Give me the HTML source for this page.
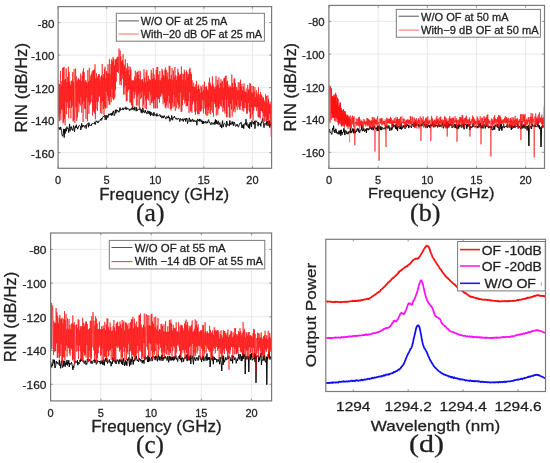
<!DOCTYPE html>
<html><head><meta charset="utf-8"><style>html,body{margin:0;padding:0;background:#fff;overflow:hidden}svg{display:block;filter:blur(0.4px)}</style></head>
<body>
<svg width="550" height="463" viewBox="0 0 550 463">
<defs><clipPath id="ca"><rect x="58.1" y="6.6" width="213.50" height="161.70"/></clipPath><clipPath id="cb"><rect x="328.9" y="5.4" width="215.60" height="163.00"/></clipPath><clipPath id="cc"><rect x="50.6" y="233.0" width="221.00" height="167.90"/></clipPath><clipPath id="cd"><rect x="325.8" y="239.3" width="219.70" height="152.20"/></clipPath></defs>
<rect width="550" height="463" fill="#fff"/>
<line x1="106.68" y1="6.6" x2="106.68" y2="168.3" stroke="#e3e3e3" stroke-width="0.8"/>
<line x1="155.25" y1="6.6" x2="155.25" y2="168.3" stroke="#e3e3e3" stroke-width="0.8"/>
<line x1="203.82" y1="6.6" x2="203.82" y2="168.3" stroke="#e3e3e3" stroke-width="0.8"/>
<line x1="252.40" y1="6.6" x2="252.40" y2="168.3" stroke="#e3e3e3" stroke-width="0.8"/>
<line x1="58.1" y1="22.60" x2="271.6" y2="22.60" stroke="#e3e3e3" stroke-width="0.8"/>
<line x1="58.1" y1="55.10" x2="271.6" y2="55.10" stroke="#e3e3e3" stroke-width="0.8"/>
<line x1="58.1" y1="87.60" x2="271.6" y2="87.60" stroke="#e3e3e3" stroke-width="0.8"/>
<line x1="58.1" y1="120.10" x2="271.6" y2="120.10" stroke="#e3e3e3" stroke-width="0.8"/>
<line x1="58.1" y1="152.60" x2="271.6" y2="152.60" stroke="#e3e3e3" stroke-width="0.8"/>
<g clip-path="url(#ca)">
<polyline points="58.3,126.8 58.8,128.2 59.2,129.2 59.7,127.6 60.1,129.9 60.6,126.9 61.0,128.5 61.5,129.3 61.9,134.2 62.4,136.2 62.8,135.8 63.3,133.5 63.7,128.9 64.2,137.6 64.6,129.3 65.1,133.7 65.5,128.6 66.0,131.2 66.4,131.1 66.9,126.6 67.3,129.0 67.8,128.5 68.2,128.4 68.7,132.5 69.1,128.1 69.6,123.9 70.0,131.2 70.5,126.9 70.9,126.6 71.4,126.6 71.8,129.5 72.3,128.9 72.7,130.5 73.2,128.2 73.6,125.5 74.1,129.3 74.5,131.9 75.0,127.7 75.4,126.2 75.9,128.1 76.3,124.7 76.8,127.8 77.2,127.4 77.7,129.2 78.1,127.8 78.6,126.0 79.0,125.9 79.5,125.3 79.9,126.0 80.4,126.2 80.8,130.0 81.3,127.9 81.7,123.3 82.2,127.3 82.6,125.4 83.1,126.4 83.5,125.2 84.0,126.0 84.4,127.4 84.9,127.0 85.3,125.2 85.8,126.3 86.2,128.6 86.7,124.6 87.1,123.8 87.6,123.8 88.0,123.7 88.5,127.2 88.9,122.6 89.4,124.9 89.8,125.9 90.3,125.1 90.7,125.3 91.2,125.9 91.6,123.9 92.1,123.5 92.5,123.8 93.0,123.1 93.4,123.4 93.9,124.0 94.3,123.6 94.8,121.9 95.2,124.6 95.7,123.0 96.1,120.8 96.6,121.6 97.0,120.9 97.5,121.6 97.9,123.1 98.4,121.8 98.8,120.9 99.3,121.4 99.7,120.9 100.2,120.2 100.6,119.0 101.1,120.5 101.5,118.0 102.0,119.3 102.4,117.6 102.9,117.2 103.3,116.1 103.8,116.7 104.2,116.4 104.7,115.2 105.1,119.7 105.6,118.3 106.0,115.2 106.5,119.6 106.9,115.8 107.4,115.5 107.8,117.7 108.3,116.5 108.7,113.9 109.2,113.8 109.6,115.1 110.1,115.2 110.5,114.8 111.0,113.0 111.4,115.5 111.9,113.2 112.3,115.2 112.8,111.7 113.2,112.4 113.7,110.8 114.1,115.8 114.6,115.2 115.0,112.9 115.5,109.8 115.9,113.3 116.4,109.7 116.8,111.0 117.3,110.9 117.7,110.0 118.2,112.2 118.6,111.4 119.1,112.2 119.5,110.0 120.0,107.5 120.4,110.5 120.9,109.1 121.3,109.3 121.8,109.4 122.2,109.9 122.7,107.8 123.1,109.3 123.6,110.1 124.0,107.8 124.5,108.2 124.9,108.7 125.4,109.3 125.8,106.8 126.3,108.9 126.7,109.7 127.2,107.9 127.6,109.1 128.1,108.6 128.5,109.0 129.0,108.7 129.4,110.8 129.9,109.5 130.3,109.3 130.8,110.2 131.2,108.5 131.7,107.9 132.1,109.8 132.6,105.7 133.0,108.8 133.5,108.1 133.9,110.3 134.4,110.1 134.8,106.8 135.3,108.2 135.7,109.4 136.2,111.2 136.6,107.3 137.1,110.8 137.5,110.2 138.0,109.9 138.4,109.3 138.9,109.8 139.3,110.0 139.8,107.5 140.2,110.0 140.7,109.7 141.1,112.5 141.6,109.5 142.0,113.2 142.5,111.7 142.9,107.9 143.4,112.1 143.8,111.1 144.3,112.9 144.7,113.0 145.2,110.0 145.6,112.2 146.1,111.8 146.5,112.2 147.0,114.1 147.4,112.3 147.9,110.8 148.3,113.4 148.8,111.8 149.2,111.1 149.7,114.4 150.1,111.6 150.6,115.8 151.0,112.1 151.5,113.6 151.9,114.9 152.4,113.6 152.8,114.4 153.3,116.1 153.7,112.3 154.2,112.4 154.6,115.4 155.1,114.7 155.5,114.9 156.0,114.7 156.4,116.3 156.9,113.3 157.3,114.6 157.8,116.2 158.2,115.6 158.7,116.1 159.1,115.4 159.6,114.4 160.0,114.5 160.5,117.0 160.9,115.4 161.4,116.9 161.8,118.2 162.3,117.3 162.7,115.9 163.2,118.1 163.6,117.0 164.1,115.5 164.5,117.1 165.0,117.2 165.4,117.6 165.9,119.1 166.3,116.8 166.8,116.5 167.2,116.4 167.7,118.1 168.1,118.1 168.6,115.7 169.0,118.2 169.5,117.3 169.9,121.4 170.4,118.6 170.8,118.6 171.3,119.4 171.7,115.4 172.2,117.8 172.6,120.2 173.1,117.5 173.5,117.6 174.0,117.7 174.4,116.0 174.9,117.9 175.3,117.9 175.8,118.9 176.2,119.4 176.7,118.1 177.1,118.3 177.6,119.5 178.0,119.0 178.5,118.3 178.9,118.3 179.4,119.3 179.8,121.6 180.3,118.4 180.7,119.2 181.2,120.1 181.6,119.6 182.1,120.6 182.5,118.7 183.0,119.6 183.4,121.5 183.9,118.8 184.3,118.7 184.8,119.7 185.2,118.8 185.7,121.6 186.1,118.0 186.6,119.3 187.0,118.4 187.5,123.6 187.9,122.0 188.4,120.8 188.8,120.5 189.3,117.8 189.7,120.2 190.2,122.0 190.6,119.7 191.1,120.1 191.5,121.4 192.0,119.4 192.4,119.1 192.9,120.9 193.3,121.9 193.8,119.8 194.2,120.2 194.7,121.2 195.1,121.9 195.6,121.2 196.0,120.3 196.5,120.9 196.9,125.2 197.4,120.3 197.8,118.9 198.3,120.7 198.7,120.1 199.2,121.3 199.6,118.9 200.1,121.4 200.5,119.7 201.0,119.6 201.4,121.7 201.9,120.5 202.3,123.8 202.8,121.2 203.2,123.9 203.7,121.1 204.1,122.5 204.6,122.2 205.0,123.2 205.5,121.6 205.9,121.1 206.4,123.4 206.8,122.6 207.3,121.8 207.7,123.1 208.2,120.6 208.6,119.6 209.1,122.0 209.5,122.6 210.0,122.3 210.4,123.8 210.9,124.9 211.3,123.8 211.8,122.3 212.2,123.2 212.7,124.2 213.1,124.5 213.6,122.9 214.0,123.5 214.5,121.9 214.9,124.7 215.4,119.5 215.8,123.3 216.3,120.2 216.7,123.8 217.2,122.5 217.6,124.2 218.1,120.8 218.5,122.4 219.0,124.7 219.4,123.9 219.9,122.5 220.3,126.7 220.8,124.9 221.2,124.7 221.7,128.1 222.1,123.3 222.6,120.7 223.0,127.1 223.5,126.0 223.9,123.7 224.4,123.3 224.8,123.4 225.3,124.5 225.7,124.9 226.2,127.2 226.6,121.0 227.1,121.8 227.5,125.3 228.0,124.2 228.4,124.6 228.9,124.9 229.3,126.2 229.8,120.4 230.2,124.6 230.7,123.0 231.1,124.6 231.6,123.8 232.0,121.6 232.5,124.2 232.9,121.7 233.4,125.7 233.8,123.2 234.3,122.0 234.7,123.1 235.2,125.8 235.6,126.4 236.1,125.3 236.5,125.9 237.0,124.0 237.4,125.0 237.9,126.2 238.3,127.2 238.8,126.0 239.2,124.8 239.7,123.4 240.1,124.0 240.6,123.4 241.0,122.2 241.5,123.9 241.9,127.9 242.4,125.2 242.8,127.7 243.3,124.3 243.7,128.6 244.2,124.7 244.6,124.3 245.1,123.2 245.5,124.5 246.0,119.2 246.4,125.4 246.9,122.6 247.3,125.4 247.8,126.6 248.2,125.4 248.7,127.8 249.1,123.8 249.6,128.7 250.0,122.3 250.5,124.3 250.9,122.6 251.4,127.0 251.8,120.7 252.3,121.3 252.7,121.7 253.2,124.3 253.6,122.0 254.1,124.1 254.5,120.9 255.0,128.6 255.4,123.7 255.9,120.6 256.3,121.7 256.8,121.5 257.2,121.7 257.7,123.2 258.1,126.2 258.6,122.4 259.0,124.7 259.5,124.3 259.9,123.8 260.4,123.6 260.8,126.3 261.3,121.8 261.7,123.1 262.2,120.6 262.6,118.5 263.1,121.7 263.5,123.4 264.0,127.7 264.4,123.9 264.9,123.2 265.3,123.0 265.8,123.7 266.2,125.4 266.7,121.4 267.1,123.5 267.6,121.0 268.0,126.1 268.5,123.1 268.9,120.7 269.4,120.7 269.8,127.6 270.3,124.4 270.7,125.2 271.2,120.7" fill="none" stroke="#000" stroke-width="0.9" stroke-linejoin="round" opacity="1.0"/>
<polyline points="58.3,79.4 58.7,117.1 59.0,83.9 59.4,121.3 59.7,84.1 60.1,113.8 60.5,70.9 60.8,119.8 61.2,85.5 61.5,109.3 61.9,81.0 62.3,110.2 62.6,68.0 63.0,123.6 63.3,67.2 63.7,121.7 64.1,67.1 64.4,118.8 64.8,80.1 65.1,125.3 65.5,79.0 65.9,102.0 66.2,68.3 66.6,114.2 66.9,82.3 67.3,102.2 67.7,77.1 68.0,107.8 68.4,66.6 68.7,118.3 69.1,72.0 69.5,108.1 69.8,81.4 70.2,100.3 70.5,84.8 70.9,118.4 71.3,81.2 71.6,107.9 72.0,80.4 72.3,106.0 72.7,72.2 73.1,121.6 73.4,81.7 73.8,120.1 74.1,69.1 74.5,116.2 74.9,123.0 75.2,111.9 75.6,68.4 75.9,107.4 76.3,76.3 76.7,120.7 77.0,81.5 77.4,117.5 77.7,79.5 78.1,102.1 78.5,78.1 78.8,112.4 79.2,80.1 79.5,103.6 79.9,79.3 80.3,105.7 80.6,73.6 81.0,96.9 81.3,81.3 81.7,112.7 82.1,75.6 82.4,104.7 82.8,71.4 83.1,122.1 83.5,68.2 83.9,101.0 84.2,72.2 84.6,108.5 84.9,81.5 85.3,109.2 85.7,79.9 86.0,118.9 86.4,81.8 86.7,97.5 87.1,82.8 87.5,121.2 87.8,70.1 88.2,101.9 88.5,81.4 88.9,113.9 89.3,67.9 89.6,105.1 90.0,80.3 90.3,103.5 90.7,75.6 91.1,102.2 91.4,73.9 91.8,94.8 92.1,71.4 92.5,115.5 92.9,70.6 93.2,110.6 93.6,70.0 93.9,112.2 94.3,69.5 94.7,113.7 95.0,64.3 95.4,119.2 95.7,78.0 96.1,109.4 96.5,73.4 96.8,101.6 97.2,78.1 97.5,110.9 97.9,76.0 98.3,101.7 98.6,74.5 99.0,96.4 99.3,74.1 99.7,96.5 100.1,80.4 100.4,113.0 100.8,76.5 101.1,103.1 101.5,75.2 101.9,113.9 102.2,64.0 102.6,101.0 102.9,77.5 103.3,109.0 103.7,74.3 104.0,115.4 104.4,68.7 104.7,107.4 105.1,66.6 105.5,108.7 105.8,78.3 106.2,91.8 106.5,71.0 106.9,108.1 107.3,73.0 107.6,95.6 108.0,64.3 108.3,101.0 108.7,73.5 109.1,104.6 109.4,59.2 109.8,104.8 110.1,74.1 110.5,97.0 110.9,64.1 111.2,102.2 111.6,59.4 111.9,89.0 112.3,61.2 112.7,98.2 113.0,56.9 113.4,100.1 113.7,59.0 114.1,99.3 114.5,65.5 114.8,97.4 115.2,59.4 115.5,90.0 115.9,59.6 116.3,81.7 116.6,58.4 117.0,72.0 117.3,56.8 117.7,72.0 118.1,56.8 118.4,73.0 118.8,50.0 119.1,48.5 119.5,57.4 119.9,84.8 120.2,50.5 120.6,81.0 120.9,56.3 121.3,85.4 121.7,61.5 122.0,74.7 122.4,60.0 122.7,78.9 123.1,54.2 123.5,94.5 123.8,64.2 124.2,87.0 124.5,66.0 124.9,94.7 125.3,59.2 125.6,85.5 126.0,71.7 126.3,101.5 126.7,67.9 127.1,101.0 127.4,63.2 127.8,92.1 128.1,69.9 128.5,90.0 128.9,66.2 129.2,89.0 129.6,74.9 129.9,102.5 130.3,67.1 130.7,102.5 131.0,69.5 131.4,105.2 131.7,80.3 132.1,105.7 132.5,80.4 132.8,107.4 133.2,81.2 133.5,91.3 133.9,79.9 134.3,98.5 134.6,76.6 135.0,94.8 135.3,70.7 135.7,91.6 136.1,78.6 136.4,105.6 136.8,72.4 137.1,96.5 137.5,71.6 137.9,105.7 138.2,75.1 138.6,94.2 138.9,70.7 139.3,109.6 139.7,78.9 140.0,92.9 140.4,71.2 140.7,99.0 141.1,80.3 141.5,97.5 141.8,79.5 142.2,91.8 142.5,79.1 142.9,107.7 143.3,82.2 143.6,104.7 144.0,69.2 144.3,95.6 144.7,77.5 145.1,108.5 145.4,82.3 145.8,100.4 146.1,71.8 146.5,109.2 146.9,69.9 147.2,97.6 147.6,81.0 147.9,99.4 148.3,75.6 148.7,100.7 149.0,79.0 149.4,91.5 149.7,79.7 150.1,105.1 150.5,80.3 150.8,94.5 151.2,69.8 151.5,103.2 151.9,72.9 152.3,100.9 152.6,78.8 153.0,103.2 153.3,68.0 153.7,108.3 154.1,74.4 154.4,99.7 154.8,78.3 155.1,108.4 155.5,80.3 155.9,108.1 156.2,70.2 156.6,97.1 156.9,67.1 157.3,108.5 157.7,66.9 158.0,98.7 158.4,74.6 158.7,99.0 159.1,80.2 159.5,102.7 159.8,71.1 160.2,96.6 160.5,80.5 160.9,96.5 161.3,78.2 161.6,92.9 162.0,68.9 162.3,94.7 162.7,70.6 163.1,104.4 163.4,75.1 163.8,99.7 164.1,76.6 164.5,102.7 164.9,69.6 165.2,107.4 165.6,67.4 165.9,108.4 166.3,70.1 166.7,105.4 167.0,76.8 167.4,101.2 167.7,72.5 168.1,107.9 168.5,79.5 168.8,95.8 169.2,65.7 169.5,103.4 169.9,66.1 170.3,109.1 170.6,79.2 171.0,110.5 171.3,75.1 171.7,108.4 172.1,68.2 172.4,102.7 172.8,79.9 173.1,107.5 173.5,70.5 173.9,94.7 174.2,77.3 174.6,106.3 174.9,67.0 175.3,110.9 175.7,75.2 176.0,97.2 176.4,80.0 176.7,108.3 177.1,76.3 177.5,102.7 177.8,68.8 178.2,104.7 178.5,72.4 178.9,108.9 179.3,75.7 179.6,107.2 180.0,74.0 180.3,92.4 180.7,74.9 181.1,111.8 181.4,66.4 181.8,111.6 182.1,73.5 182.5,105.2 182.9,79.8 183.2,99.8 183.6,74.1 183.9,96.9 184.3,69.6 184.7,103.4 185.0,72.1 185.4,101.0 185.7,80.3 186.1,106.3 186.5,70.3 186.8,105.9 187.2,72.3 187.5,106.0 187.9,76.7 188.3,101.0 188.6,74.1 189.0,113.0 189.3,69.3 189.7,92.4 190.1,67.7 190.4,111.5 190.8,72.3 191.1,110.9 191.5,74.3 191.9,112.7 192.2,80.3 192.6,104.5 192.9,86.6 193.3,100.7 193.7,82.9 194.0,102.3 194.4,86.6 194.7,111.7 195.1,87.5 195.5,114.8 195.8,84.5 196.2,111.3 196.5,80.8 196.9,101.0 197.3,89.4 197.6,114.4 198.0,85.7 198.3,114.1 198.7,84.6 199.1,113.9 199.4,88.9 199.8,110.3 200.1,92.8 200.5,111.5 200.9,85.7 201.2,110.9 201.6,87.5 201.9,109.1 202.3,91.8 202.7,100.0 203.0,84.8 203.4,113.4 203.7,90.2 204.1,101.2 204.5,81.6 204.8,108.6 205.2,86.8 205.5,114.2 205.9,87.2 206.3,115.6 206.6,86.2 207.0,107.4 207.3,89.7 207.7,115.6 208.1,90.2 208.4,110.2 208.8,82.4 209.1,113.4 209.5,77.7 209.9,106.7 210.2,82.7 210.6,114.2 210.9,85.1 211.3,110.4 211.7,86.9 212.0,102.0 212.4,76.4 212.7,112.7 213.1,83.6 213.5,116.8 213.8,86.0 214.2,101.8 214.5,88.7 214.9,104.0 215.3,87.2 215.6,107.3 216.0,75.9 216.3,115.8 216.7,85.8 217.1,106.6 217.4,79.9 217.8,114.8 218.1,84.6 218.5,109.2 218.9,77.3 219.2,108.2 219.6,88.2 219.9,103.9 220.3,83.0 220.7,106.1 221.0,79.3 221.4,106.6 221.7,82.6 222.1,100.2 222.5,80.9 222.8,111.8 223.2,87.9 223.5,107.7 223.9,78.3 224.3,111.0 224.6,78.0 225.0,113.6 225.3,76.1 225.7,99.7 226.1,75.6 226.4,117.2 226.8,82.0 227.1,117.3 227.5,80.7 227.9,99.6 228.2,87.2 228.6,107.1 228.9,84.7 229.3,117.3 229.7,87.4 230.0,117.9 230.4,86.0 230.7,104.0 231.1,87.8 231.5,109.6 231.8,74.6 232.2,116.6 232.5,83.1 232.9,99.8 233.3,87.4 233.6,111.5 234.0,78.9 234.3,109.2 234.7,78.3 235.1,112.4 235.4,83.1 235.8,104.8 236.1,87.8 236.5,106.6 236.9,86.8 237.2,109.9 237.6,90.2 237.9,99.6 238.3,82.2 238.7,106.8 239.0,90.1 239.4,109.3 239.7,82.5 240.1,110.0 240.5,79.7 240.8,106.1 241.2,86.7 241.5,101.2 241.9,83.8 242.3,110.5 242.6,90.4 243.0,107.9 243.3,86.6 243.7,111.5 244.1,83.4 244.4,108.2 244.8,91.0 245.1,102.5 245.5,92.1 245.9,108.2 246.2,88.6 246.6,113.5 246.9,92.7 247.3,113.7 247.7,85.0 248.0,110.4 248.4,90.2 248.7,103.0 249.1,88.8 249.5,111.7 249.8,83.0 250.2,118.9 250.5,83.8 250.9,117.9 251.3,92.0 251.6,107.4 252.0,85.9 252.3,114.4 252.7,93.4 253.1,120.6 253.4,85.9 253.8,110.7 254.1,91.8 254.5,107.0 254.9,87.2 255.2,106.3 255.6,96.9 255.9,107.5 256.3,90.2 256.7,110.9 257.0,92.7 257.4,107.1 257.7,95.3 258.1,116.7 258.5,87.4 258.8,117.6 259.2,94.1 259.5,117.1 259.9,98.3 260.3,118.5 260.6,92.0 261.0,110.8 261.3,94.6 261.7,110.9 262.1,95.6 262.4,112.5 262.8,98.3 263.1,121.4 263.5,97.3 263.9,116.2 264.2,100.4 264.6,121.8 264.9,101.9 265.3,117.0 265.7,94.1 266.0,121.0 266.4,96.0 266.7,121.0 267.1,103.2 267.5,119.8 267.8,95.5 268.2,124.3 268.5,99.0 268.9,119.6 269.3,104.3 269.6,113.6 270.0,101.6 270.3,123.8 270.7,104.4 271.1,137.0" fill="none" stroke="#ff0808" stroke-width="0.6" stroke-linejoin="round" opacity="1.0"/>
</g>
<rect x="58.1" y="6.6" width="213.50" height="161.70" fill="none" stroke="#7a7a7a" stroke-width="1.2"/>
<line x1="58.10" y1="168.3" x2="58.10" y2="166.10000000000002" stroke="#7a7a7a" stroke-width="0.8"/>
<line x1="58.10" y1="6.6" x2="58.10" y2="8.8" stroke="#7a7a7a" stroke-width="0.8"/>
<line x1="106.68" y1="168.3" x2="106.68" y2="166.10000000000002" stroke="#7a7a7a" stroke-width="0.8"/>
<line x1="106.68" y1="6.6" x2="106.68" y2="8.8" stroke="#7a7a7a" stroke-width="0.8"/>
<line x1="155.25" y1="168.3" x2="155.25" y2="166.10000000000002" stroke="#7a7a7a" stroke-width="0.8"/>
<line x1="155.25" y1="6.6" x2="155.25" y2="8.8" stroke="#7a7a7a" stroke-width="0.8"/>
<line x1="203.82" y1="168.3" x2="203.82" y2="166.10000000000002" stroke="#7a7a7a" stroke-width="0.8"/>
<line x1="203.82" y1="6.6" x2="203.82" y2="8.8" stroke="#7a7a7a" stroke-width="0.8"/>
<line x1="252.40" y1="168.3" x2="252.40" y2="166.10000000000002" stroke="#7a7a7a" stroke-width="0.8"/>
<line x1="252.40" y1="6.6" x2="252.40" y2="8.8" stroke="#7a7a7a" stroke-width="0.8"/>
<line x1="58.1" y1="22.60" x2="60.300000000000004" y2="22.60" stroke="#7a7a7a" stroke-width="0.8"/>
<line x1="271.6" y1="22.60" x2="269.40000000000003" y2="22.60" stroke="#7a7a7a" stroke-width="0.8"/>
<line x1="58.1" y1="55.10" x2="60.300000000000004" y2="55.10" stroke="#7a7a7a" stroke-width="0.8"/>
<line x1="271.6" y1="55.10" x2="269.40000000000003" y2="55.10" stroke="#7a7a7a" stroke-width="0.8"/>
<line x1="58.1" y1="87.60" x2="60.300000000000004" y2="87.60" stroke="#7a7a7a" stroke-width="0.8"/>
<line x1="271.6" y1="87.60" x2="269.40000000000003" y2="87.60" stroke="#7a7a7a" stroke-width="0.8"/>
<line x1="58.1" y1="120.10" x2="60.300000000000004" y2="120.10" stroke="#7a7a7a" stroke-width="0.8"/>
<line x1="271.6" y1="120.10" x2="269.40000000000003" y2="120.10" stroke="#7a7a7a" stroke-width="0.8"/>
<line x1="58.1" y1="152.60" x2="60.300000000000004" y2="152.60" stroke="#7a7a7a" stroke-width="0.8"/>
<line x1="271.6" y1="152.60" x2="269.40000000000003" y2="152.60" stroke="#7a7a7a" stroke-width="0.8"/>
<text transform="translate(54.40,27.70) scale(1.0400,1)" font-family="Liberation Sans" font-size="11.2" fill="#1f1f1f" stroke="#1f1f1f" stroke-width="0.28" text-anchor="end">-80</text>
<text transform="translate(54.40,60.20) scale(1.0400,1)" font-family="Liberation Sans" font-size="11.2" fill="#1f1f1f" stroke="#1f1f1f" stroke-width="0.28" text-anchor="end">-100</text>
<text transform="translate(54.40,92.70) scale(1.0400,1)" font-family="Liberation Sans" font-size="11.2" fill="#1f1f1f" stroke="#1f1f1f" stroke-width="0.28" text-anchor="end">-120</text>
<text transform="translate(54.40,125.20) scale(1.0400,1)" font-family="Liberation Sans" font-size="11.2" fill="#1f1f1f" stroke="#1f1f1f" stroke-width="0.28" text-anchor="end">-140</text>
<text transform="translate(54.40,157.70) scale(1.0400,1)" font-family="Liberation Sans" font-size="11.2" fill="#1f1f1f" stroke="#1f1f1f" stroke-width="0.28" text-anchor="end">-160</text>
<text transform="translate(58.10,183.60) scale(1.0000,1)" font-family="Liberation Sans" font-size="11.0" fill="#1f1f1f" stroke="#1f1f1f" stroke-width="0.28" text-anchor="middle">0</text>
<text transform="translate(106.68,183.60) scale(1.0000,1)" font-family="Liberation Sans" font-size="11.0" fill="#1f1f1f" stroke="#1f1f1f" stroke-width="0.28" text-anchor="middle">5</text>
<text transform="translate(155.25,183.60) scale(1.0000,1)" font-family="Liberation Sans" font-size="11.0" fill="#1f1f1f" stroke="#1f1f1f" stroke-width="0.28" text-anchor="middle">10</text>
<text transform="translate(203.82,183.60) scale(1.0000,1)" font-family="Liberation Sans" font-size="11.0" fill="#1f1f1f" stroke="#1f1f1f" stroke-width="0.28" text-anchor="middle">15</text>
<text transform="translate(252.40,183.60) scale(1.0000,1)" font-family="Liberation Sans" font-size="11.0" fill="#1f1f1f" stroke="#1f1f1f" stroke-width="0.28" text-anchor="middle">20</text>
<text transform="translate(26.50,132.50) rotate(-90) scale(1.0380,1)" font-family="Liberation Sans" font-size="16" fill="#1f1f1f" stroke="#1f1f1f" stroke-width="0.28" text-anchor="start">RIN (dB/Hz)</text>
<text transform="translate(99.20,199.60) scale(1.0868,1)" font-family="Liberation Sans" font-size="15.6" fill="#1f1f1f" stroke="#1f1f1f" stroke-width="0.28" text-anchor="start">Frequency (GHz)</text>
<text transform="translate(136.00,220.50) scale(0.9877,1)" font-family="Liberation Serif" font-size="26" fill="#1f1f1f" stroke="#1f1f1f" stroke-width="0.28" text-anchor="start">(a)</text>
<rect x="116.3" y="13.3" width="148.1" height="27.9" fill="#fff" stroke="#7a7a7a" stroke-width="1"/>
<line x1="118.5" y1="20.9" x2="138.9" y2="20.9" stroke="#555" stroke-width="1"/>
<text transform="translate(140.80,24.90) scale(1.0368,1)" font-family="Liberation Sans" font-size="10.5" fill="#1f1f1f" stroke="#1f1f1f" stroke-width="0.28" text-anchor="start">W/O OF at 25 mA</text>
<line x1="118.5" y1="34" x2="138.9" y2="34" stroke="#ff8080" stroke-width="1.2"/>
<text transform="translate(140.80,37.80) scale(1.0384,1)" font-family="Liberation Sans" font-size="10.5" fill="#1f1f1f" stroke="#1f1f1f" stroke-width="0.28" text-anchor="start">With−20 dB OF at 25 mA</text>
<line x1="378.15" y1="5.4" x2="378.15" y2="168.4" stroke="#e3e3e3" stroke-width="0.8"/>
<line x1="427.30" y1="5.4" x2="427.30" y2="168.4" stroke="#e3e3e3" stroke-width="0.8"/>
<line x1="476.45" y1="5.4" x2="476.45" y2="168.4" stroke="#e3e3e3" stroke-width="0.8"/>
<line x1="525.60" y1="5.4" x2="525.60" y2="168.4" stroke="#e3e3e3" stroke-width="0.8"/>
<line x1="328.9" y1="21.40" x2="544.5" y2="21.40" stroke="#e3e3e3" stroke-width="0.8"/>
<line x1="328.9" y1="54.14" x2="544.5" y2="54.14" stroke="#e3e3e3" stroke-width="0.8"/>
<line x1="328.9" y1="86.88" x2="544.5" y2="86.88" stroke="#e3e3e3" stroke-width="0.8"/>
<line x1="328.9" y1="119.61" x2="544.5" y2="119.61" stroke="#e3e3e3" stroke-width="0.8"/>
<line x1="328.9" y1="152.35" x2="544.5" y2="152.35" stroke="#e3e3e3" stroke-width="0.8"/>
<g clip-path="url(#cb)">
<polyline points="329.1,132.5 329.6,129.1 330.0,132.5 330.4,132.3 330.9,132.6 331.3,133.5 331.8,134.5 332.2,130.8 332.7,128.4 333.1,129.3 333.6,125.7 334.0,131.5 334.5,130.0 334.9,133.0 335.4,130.8 335.8,128.8 336.3,130.3 336.7,133.2 337.2,133.6 337.6,132.5 338.1,133.8 338.5,134.1 339.0,130.7 339.4,134.3 339.9,133.1 340.3,130.2 340.8,135.7 341.2,129.8 341.7,133.7 342.1,134.6 342.6,132.0 343.0,132.5 343.5,132.0 343.9,128.2 344.4,131.1 344.8,135.1 345.3,132.4 345.7,130.4 346.2,130.8 346.6,133.7 347.1,132.5 347.5,132.8 348.0,134.3 348.4,131.6 348.9,132.9 349.3,131.8 349.8,131.3 350.2,132.9 350.7,128.3 351.1,133.1 351.6,130.9 352.0,131.6 352.5,130.9 352.9,128.3 353.4,133.2 353.8,129.3 354.3,133.1 354.7,129.7 355.2,133.3 355.6,131.1 356.1,132.0 356.5,131.4 357.0,128.6 357.4,128.3 357.9,130.3 358.3,131.5 358.8,128.5 359.2,132.3 359.7,132.9 360.1,130.1 360.6,130.1 361.0,129.5 361.5,129.8 361.9,125.1 362.4,131.2 362.8,130.4 363.3,130.9 363.7,128.0 364.2,130.9 364.6,131.6 365.1,129.8 365.5,130.5 366.0,128.9 366.4,133.0 366.9,128.0 367.3,128.8 367.8,129.8 368.2,130.2 368.7,128.5 369.1,129.5 369.6,128.4 370.0,126.3 370.5,128.8 370.9,127.2 371.4,127.9 371.8,129.8 372.3,126.8 372.7,127.6 373.2,130.2 373.6,128.1 374.1,125.8 374.5,127.1 375.0,127.3 375.4,129.1 375.9,128.4 376.3,127.6 376.8,129.4 377.2,131.1 377.7,125.8 378.1,129.2 378.6,130.9 379.0,125.6 379.5,128.3 379.9,129.4 380.4,129.8 380.8,126.3 381.3,128.4 381.7,130.1 382.2,127.2 382.6,127.8 383.1,128.8 383.5,128.9 384.0,128.8 384.4,127.7 384.9,128.5 385.3,129.5 385.8,126.1 386.2,125.5 386.7,127.8 387.1,127.5 387.6,125.9 388.0,128.5 388.5,126.9 388.9,125.5 389.4,127.8 389.8,130.7 390.3,129.3 390.7,128.5 391.2,127.3 391.6,130.1 392.1,129.7 392.5,126.5 393.0,124.0 393.4,126.1 393.9,127.3 394.3,125.3 394.8,125.3 395.2,125.4 395.7,129.0 396.1,124.1 396.6,129.3 397.0,127.4 397.5,130.9 397.9,126.3 398.4,127.2 398.8,125.8 399.3,127.2 399.7,128.8 400.2,126.8 400.6,129.1 401.1,123.5 401.5,129.5 402.0,125.6 402.4,128.4 402.9,127.8 403.3,127.5 403.8,125.3 404.2,126.4 404.7,126.2 405.1,128.8 405.6,125.1 406.0,126.8 406.5,127.1 406.9,124.0 407.4,124.8 407.8,126.1 408.3,125.0 408.7,128.1 409.2,126.4 409.6,125.8 410.1,126.7 410.5,127.1 411.0,126.2 411.4,127.9 411.9,126.1 412.3,124.1 412.8,125.0 413.2,125.4 413.7,126.8 414.1,122.7 414.6,125.6 415.0,127.5 415.5,122.4 415.9,122.5 416.4,125.5 416.8,124.6 417.3,124.9 417.7,125.2 418.2,124.2 418.6,126.6 419.1,126.5 419.5,127.1 420.0,124.7 420.4,125.4 420.9,125.5 421.3,123.8 421.8,126.3 422.2,125.7 422.7,124.7 423.1,122.5 423.6,122.5 424.0,124.3 424.5,125.2 424.9,124.4 425.4,127.5 425.8,124.4 426.3,123.9 426.7,125.5 427.2,127.9 427.6,124.4 428.1,126.3 428.5,125.5 429.0,126.7 429.4,125.2 429.9,127.8 430.3,126.0 430.8,124.4 431.2,125.9 431.7,126.1 432.1,123.5 432.6,121.8 433.0,125.8 433.5,126.0 433.9,127.3 434.4,125.1 434.8,124.0 435.3,125.1 435.7,126.4 436.2,124.8 436.6,125.6 437.1,126.2 437.5,127.4 438.0,125.0 438.4,125.6 438.9,123.6 439.3,126.8 439.8,125.5 440.2,125.0 440.7,126.6 441.1,126.2 441.6,126.2 442.0,125.1 442.5,123.2 442.9,124.9 443.4,128.3 443.8,127.3 444.3,125.9 444.7,124.6 445.2,125.4 445.6,124.8 446.1,127.1 446.5,121.8 447.0,126.3 447.4,128.4 447.9,125.8 448.3,123.0 448.8,127.4 449.2,124.9 449.7,125.1 450.1,123.4 450.6,125.3 451.0,124.5 451.5,125.4 451.9,125.1 452.4,127.4 452.8,127.8 453.3,125.5 453.7,125.9 454.2,125.7 454.6,123.9 455.1,128.1 455.5,126.0 456.0,124.1 456.4,128.1 456.9,127.6 457.3,129.2 457.8,125.0 458.2,125.3 458.7,128.6 459.1,124.2 459.6,126.8 460.0,126.6 460.5,125.3 460.9,124.8 461.4,127.7 461.8,125.7 462.3,126.2 462.7,123.8 463.2,127.4 463.6,123.8 464.1,129.3 464.5,125.1 465.0,123.7 465.4,125.0 465.9,124.0 466.3,124.5 466.8,128.7 467.2,127.2 467.7,124.2 468.1,125.7 468.6,126.4 469.0,123.9 469.5,125.4 469.9,129.9 470.4,128.2 470.8,126.1 471.3,126.9 471.7,127.9 472.2,126.7 472.6,127.0 473.1,123.5 473.5,126.3 474.0,126.4 474.4,126.9 474.9,127.1 475.3,126.3 475.8,126.6 476.2,126.3 476.7,126.4 477.1,127.8 477.6,126.0 478.0,128.2 478.5,125.5 478.9,123.7 479.4,126.6 479.8,126.3 480.3,122.9 480.7,126.6 481.2,128.3 481.6,125.7 482.1,128.0 482.5,125.3 483.0,128.5 483.4,126.2 483.9,125.9 484.3,124.5 484.8,125.7 485.2,128.4 485.7,126.0 486.1,126.2 486.6,123.9 487.0,127.1 487.5,126.8 487.9,125.7 488.4,126.8 488.8,128.2 489.3,127.6 489.7,126.2 490.2,126.4 490.6,128.0 491.1,126.8 491.5,126.3 492.0,130.1 492.4,129.1 492.9,130.1 493.3,129.5 493.8,126.1 494.2,126.2 494.7,129.7 495.1,125.3 495.6,124.8 496.0,126.4 496.5,125.8 496.9,125.8 497.4,127.5 497.8,124.0 498.3,128.0 498.7,127.1 499.2,130.9 499.6,125.2 500.1,127.5 500.5,123.7 501.0,129.3 501.4,123.9 501.9,130.6 502.3,126.7 502.8,126.5 503.2,127.2 503.7,124.0 504.1,128.1 504.6,127.0 505.0,126.4 505.5,126.6 505.9,126.9 506.4,125.8 506.8,126.9 507.3,124.2 507.7,127.8 508.2,126.6 508.6,125.7 509.1,125.5 509.5,124.2 510.0,127.4 510.4,124.9 510.9,126.6 511.3,129.8 511.8,125.1 512.2,128.7 512.7,127.3 513.1,125.7 513.6,127.4 514.0,128.0 514.5,125.6 514.9,124.9 515.4,127.5 515.8,127.1 516.3,125.9 516.7,126.4 517.2,126.9 517.6,123.6 518.1,127.0 518.5,128.0 519.0,127.2 519.4,125.9 519.9,127.7 520.3,128.1 520.8,129.2 521.2,123.2 521.7,125.6 522.1,128.5 522.6,125.7 523.0,125.8 523.5,124.6 523.9,128.2 524.4,124.6 524.8,125.2 525.3,128.5 525.7,126.2 526.2,126.1 526.6,126.0 527.1,130.4 527.5,126.1 528.0,127.2 528.4,125.2 528.9,146.0 529.3,127.5 529.8,128.2 530.2,127.0 530.7,126.1 531.1,126.6 531.6,129.0 532.0,124.0 532.5,125.1 532.9,126.4 533.4,126.2 533.8,125.6 534.3,126.1 534.7,126.9 535.2,124.7 535.6,126.8 536.1,127.0 536.5,126.4 537.0,126.7 537.4,126.2 537.9,121.4 538.3,127.4 538.8,125.7 539.2,125.1 539.7,129.1 540.1,126.9 540.6,129.2 541.0,147.0 541.5,129.1 541.9,126.2 542.4,127.5 542.8,124.8 543.3,127.0 543.7,127.2 544.2,127.5" fill="none" stroke="#000" stroke-width="1.0" stroke-linejoin="round" opacity="1.0"/>
<polyline points="329.1,87.1 329.4,85.5 329.7,94.0 330.0,122.9 330.3,90.9 330.6,86.5 330.9,91.5 331.2,119.7 331.5,88.3 331.8,113.6 332.1,96.1 332.4,118.2 332.7,96.2 333.0,116.9 333.3,96.4 333.6,117.7 333.9,94.6 334.2,118.4 334.5,97.1 334.8,121.0 335.1,94.6 335.4,116.9 335.7,92.8 336.0,121.7 336.3,95.0 336.6,117.9 336.9,104.8 337.2,119.2 337.5,97.6 337.8,122.4 338.1,99.0 338.4,125.2 338.7,106.6 339.0,122.4 339.3,105.3 339.6,123.5 339.9,102.8 340.2,120.8 340.5,102.6 340.8,124.3 341.1,108.0 341.4,126.2 341.7,109.8 342.0,126.5 342.3,109.9 342.6,125.2 342.9,112.5 343.2,123.7 343.5,109.2 343.8,126.3 344.1,112.8 344.4,127.6 344.7,111.0 345.0,124.5 345.3,111.3 345.6,123.9 345.9,113.9 346.2,125.3 346.5,116.2 346.8,126.5 347.1,115.0 347.4,126.3 347.7,114.8 348.0,128.8 348.3,117.6 348.6,125.6 348.9,116.0 349.2,126.4 349.5,117.6 349.8,126.9" fill="none" stroke="#ff0808" stroke-width="0.7" stroke-linejoin="round" opacity="1.0"/>
<polyline points="349.5,142.4 349.9,128.5 350.3,115.5 350.6,127.9 351.0,119.5 351.4,128.4 351.8,117.2 352.2,123.8 352.5,115.6 352.9,124.4 353.3,117.5 353.7,127.4 354.1,116.1 354.4,127.3 354.8,145.2 355.2,123.3 355.6,122.0 356.0,124.3 356.3,118.5 356.7,125.9 357.1,121.8 357.5,124.5 357.9,118.6 358.2,125.9 358.6,117.4 359.0,126.4 359.4,116.8 359.8,128.4 360.1,119.4 360.5,125.7 360.9,121.2 361.3,125.3 361.7,120.3 362.0,125.7 362.4,121.4 362.8,126.4 363.2,121.9 363.6,129.0 363.9,119.0 364.3,123.9 364.7,120.4 365.1,125.0 365.5,121.6 365.8,126.4 366.2,121.4 366.6,124.3 367.0,118.0 367.4,126.1 367.7,118.2 368.1,126.3 368.5,119.2 368.9,125.3 369.3,119.8 369.6,126.4 370.0,120.3 370.4,128.6 370.8,120.9 371.2,124.6 371.5,120.3 371.9,128.3 372.3,117.0 372.7,126.9 373.1,120.2 373.4,127.4 373.8,117.1 374.2,124.7 374.6,118.2 375.0,151.6 375.3,119.9 375.7,124.1 376.1,118.5 376.5,124.5 376.9,120.1 377.2,126.6 377.6,116.2 378.0,124.1 378.4,122.0 378.8,126.6 379.1,160.7 379.5,123.4 379.9,118.3 380.3,123.3 380.7,118.9 381.0,123.8 381.4,118.2 381.8,125.4 382.2,118.2 382.6,124.7 382.9,121.9 383.3,124.2 383.7,120.6 384.1,124.1 384.5,121.1 384.8,126.5 385.2,119.6 385.6,128.3 386.0,147.0 386.4,126.4 386.7,117.8 387.1,128.4 387.5,118.6 387.9,123.2 388.3,119.4 388.6,123.2 389.0,118.5 389.4,123.4 389.8,118.9 390.2,123.9 390.5,116.9 390.9,123.5 391.3,118.1 391.7,127.3 392.1,120.5 392.4,126.6 392.8,120.2 393.2,124.5 393.6,120.6 394.0,123.0 394.3,118.0 394.7,123.3 395.1,121.0 395.5,123.4 395.9,117.2 396.2,126.2 396.6,119.3 397.0,126.5 397.4,117.2 397.8,126.7 398.1,119.0 398.5,124.8 398.9,119.0 399.3,128.9 399.7,118.7 400.0,125.8 400.4,116.7 400.8,123.2 401.2,121.8 401.6,127.7 401.9,116.3 402.3,123.1 402.7,122.0 403.1,122.8 403.5,118.6 403.8,123.6 404.2,118.7 404.6,126.9 405.0,122.0 405.4,128.1 405.7,120.5 406.1,126.2 406.5,119.9 406.9,124.9 407.3,119.6 407.6,122.8 408.0,119.4 408.4,124.4 408.8,119.9 409.2,123.7 409.5,120.0 409.9,127.0 410.3,116.0 410.7,123.9 411.1,116.7 411.4,126.5 411.8,121.4 412.2,122.8 412.6,116.6 413.0,124.1 413.3,121.4 413.7,126.7 414.1,117.6 414.5,128.2 414.9,118.9 415.2,124.6 415.6,120.0 416.0,123.9 416.4,118.0 416.8,128.4 417.1,121.4 417.5,125.0 417.9,119.8 418.3,123.1 418.7,118.3 419.0,128.7 419.4,120.2 419.8,127.1 420.2,116.4 420.6,124.2 420.9,141.0 421.3,127.2 421.7,117.9 422.1,123.7 422.5,120.2 422.8,123.2 423.2,116.4 423.6,127.5 424.0,121.3 424.4,125.8 424.7,120.5 425.1,127.2 425.5,118.3 425.9,128.3 426.3,117.4 426.6,123.1 427.0,119.5 427.4,126.0 427.8,116.2 428.2,124.8 428.5,120.7 428.9,124.2 429.3,120.3 429.7,123.4 430.1,119.7 430.4,124.0 430.8,141.0 431.2,128.0 431.6,115.9 432.0,123.4 432.3,118.3 432.7,126.6 433.1,120.8 433.5,125.7 433.9,120.5 434.2,124.6 434.6,119.7 435.0,127.4 435.4,120.3 435.8,125.7 436.1,118.1 436.5,124.4 436.9,116.0 437.3,124.4 437.7,119.7 438.0,126.6 438.4,118.7 438.8,126.8 439.2,120.7 439.6,123.2 439.9,117.1 440.3,124.7 440.7,116.4 441.1,123.8 441.5,120.2 441.8,127.7 442.2,119.4 442.6,123.0 443.0,120.3 443.4,127.1 443.7,120.0 444.1,125.8 444.5,116.4 444.9,126.1 445.3,116.9 445.6,128.4 446.0,119.8 446.4,127.8 446.8,118.2 447.2,136.6 447.5,120.8 447.9,124.4 448.3,120.7 448.7,127.2 449.1,118.1 449.4,122.6 449.8,116.0 450.2,126.1 450.6,118.8 451.0,123.2 451.3,118.6 451.7,128.1 452.1,117.9 452.5,125.2 452.9,117.7 453.2,125.8 453.6,117.6 454.0,123.5 454.4,120.6 454.8,122.3 455.1,116.2 455.5,122.3 455.9,119.9 456.3,126.0 456.7,118.3 457.0,141.8 457.4,120.2 457.8,123.0 458.2,120.5 458.6,125.5 458.9,119.6 459.3,125.2 459.7,117.0 460.1,124.3 460.5,117.2 460.8,122.3 461.2,117.9 461.6,128.2 462.0,115.4 462.4,126.0 462.7,115.0 463.1,123.8 463.5,119.5 463.9,125.2 464.3,118.1 464.6,127.6 465.0,118.5 465.4,122.5 465.8,116.8 466.2,123.7 466.5,115.6 466.9,123.6 467.3,119.5 467.7,123.1 468.1,119.5 468.4,126.2 468.8,119.7 469.2,122.5 469.6,117.5 470.0,136.6 470.3,120.7 470.7,125.0 471.1,121.0 471.5,122.3 471.9,118.9 472.2,124.1 472.6,115.5 473.0,122.2 473.4,117.1 473.8,127.1 474.1,118.6 474.5,125.5 474.9,119.7 475.3,123.9 475.7,121.1 476.0,128.3 476.4,121.2 476.8,123.1 477.2,116.5 477.6,125.3 477.9,117.9 478.3,124.1 478.7,120.3 479.1,127.6 479.5,120.5 479.8,124.1 480.2,116.2 480.6,124.2 481.0,144.4 481.4,123.3 481.7,117.7 482.1,125.8 482.5,117.9 482.9,127.4 483.3,121.0 483.6,125.9 484.0,115.9 484.4,122.4 484.8,117.5 485.2,125.1 485.5,118.5 485.9,125.8 486.3,117.0 486.7,126.9 487.1,115.0 487.4,126.6 487.8,114.3 488.2,126.7 488.6,119.4 489.0,123.0 489.3,120.8 489.7,123.9 490.1,120.4 490.5,126.8 490.9,156.5 491.2,126.3 491.6,118.5 492.0,125.2 492.4,119.4 492.8,128.4 493.1,121.1 493.5,124.2 493.9,117.2 494.3,123.2 494.7,115.2 495.0,125.3 495.4,118.6 495.8,122.4 496.2,119.2 496.6,126.1 496.9,119.2 497.3,122.2 497.7,117.0 498.1,124.1 498.5,115.1 498.8,126.8 499.2,116.0 499.6,128.2 500.0,115.4 500.4,124.2 500.7,117.1 501.1,123.7 501.5,119.7 501.9,123.3 502.3,120.3 502.6,123.6 503.0,119.5 503.4,126.7 503.8,119.3 504.2,122.2 504.5,118.0 504.9,123.3 505.3,116.1 505.7,123.4 506.1,117.0 506.4,123.1 506.8,117.6 507.2,128.0 507.6,118.8 508.0,125.6 508.3,117.8 508.7,122.3 509.1,120.9 509.5,127.9 509.9,118.5 510.2,126.7 510.6,118.0 511.0,127.8 511.4,119.6 511.8,125.3 512.1,117.0 512.5,127.5 512.9,120.7 513.3,124.4 513.7,117.5 514.0,126.0 514.4,119.9 514.8,125.7 515.2,115.9 515.6,127.0 515.9,119.3 516.3,124.9 516.7,118.7 517.1,124.5 517.5,118.2 517.8,128.6 518.2,120.8 518.6,128.6 519.0,120.6 519.4,122.2 519.7,119.3 520.1,123.7 520.5,114.5 520.9,140.0 521.3,113.9 521.6,124.5 522.0,120.7 522.4,126.2 522.8,114.1 523.2,122.3 523.5,114.6 523.9,121.5 524.3,115.2 524.7,125.2 525.1,113.9 525.4,128.1 525.8,120.3 526.2,125.2 526.6,118.8 527.0,124.8 527.3,120.1 527.7,124.1 528.1,117.5 528.5,121.4 528.9,117.0 529.2,128.2 529.6,120.1 530.0,128.6 530.4,116.8 530.8,122.9 531.1,113.0 531.5,124.9 531.9,117.1 532.3,124.2 532.7,113.6 533.0,122.3 533.4,118.8 533.8,123.4 534.2,157.4 534.6,127.8 534.9,116.6 535.3,125.9 535.7,113.4 536.1,125.0 536.5,118.2 536.8,125.3 537.2,116.4 537.6,123.5 538.0,118.4 538.4,123.9 538.7,114.4 539.1,122.4 539.5,112.3 539.9,122.9 540.3,118.0 540.6,122.0 541.0,117.0 541.4,124.0 541.8,114.7 542.2,128.2 542.5,118.1 542.9,127.5 543.3,117.6 543.7,124.2 544.1,106.4" fill="none" stroke="#ff0808" stroke-width="0.6" stroke-linejoin="round" opacity="1.0"/>
</g>
<rect x="328.9" y="5.4" width="215.60" height="163.00" fill="none" stroke="#7a7a7a" stroke-width="1.2"/>
<line x1="329.00" y1="168.4" x2="329.00" y2="166.20000000000002" stroke="#7a7a7a" stroke-width="0.8"/>
<line x1="329.00" y1="5.4" x2="329.00" y2="7.6000000000000005" stroke="#7a7a7a" stroke-width="0.8"/>
<line x1="378.15" y1="168.4" x2="378.15" y2="166.20000000000002" stroke="#7a7a7a" stroke-width="0.8"/>
<line x1="378.15" y1="5.4" x2="378.15" y2="7.6000000000000005" stroke="#7a7a7a" stroke-width="0.8"/>
<line x1="427.30" y1="168.4" x2="427.30" y2="166.20000000000002" stroke="#7a7a7a" stroke-width="0.8"/>
<line x1="427.30" y1="5.4" x2="427.30" y2="7.6000000000000005" stroke="#7a7a7a" stroke-width="0.8"/>
<line x1="476.45" y1="168.4" x2="476.45" y2="166.20000000000002" stroke="#7a7a7a" stroke-width="0.8"/>
<line x1="476.45" y1="5.4" x2="476.45" y2="7.6000000000000005" stroke="#7a7a7a" stroke-width="0.8"/>
<line x1="525.60" y1="168.4" x2="525.60" y2="166.20000000000002" stroke="#7a7a7a" stroke-width="0.8"/>
<line x1="525.60" y1="5.4" x2="525.60" y2="7.6000000000000005" stroke="#7a7a7a" stroke-width="0.8"/>
<line x1="328.9" y1="21.40" x2="331.09999999999997" y2="21.40" stroke="#7a7a7a" stroke-width="0.8"/>
<line x1="544.5" y1="21.40" x2="542.3" y2="21.40" stroke="#7a7a7a" stroke-width="0.8"/>
<line x1="328.9" y1="54.14" x2="331.09999999999997" y2="54.14" stroke="#7a7a7a" stroke-width="0.8"/>
<line x1="544.5" y1="54.14" x2="542.3" y2="54.14" stroke="#7a7a7a" stroke-width="0.8"/>
<line x1="328.9" y1="86.88" x2="331.09999999999997" y2="86.88" stroke="#7a7a7a" stroke-width="0.8"/>
<line x1="544.5" y1="86.88" x2="542.3" y2="86.88" stroke="#7a7a7a" stroke-width="0.8"/>
<line x1="328.9" y1="119.61" x2="331.09999999999997" y2="119.61" stroke="#7a7a7a" stroke-width="0.8"/>
<line x1="544.5" y1="119.61" x2="542.3" y2="119.61" stroke="#7a7a7a" stroke-width="0.8"/>
<line x1="328.9" y1="152.35" x2="331.09999999999997" y2="152.35" stroke="#7a7a7a" stroke-width="0.8"/>
<line x1="544.5" y1="152.35" x2="542.3" y2="152.35" stroke="#7a7a7a" stroke-width="0.8"/>
<text transform="translate(324.70,26.10) scale(1.0000,1)" font-family="Liberation Sans" font-size="11.4" fill="#1f1f1f" stroke="#1f1f1f" stroke-width="0.28" text-anchor="end">-80</text>
<text transform="translate(324.70,58.84) scale(1.0000,1)" font-family="Liberation Sans" font-size="11.4" fill="#1f1f1f" stroke="#1f1f1f" stroke-width="0.28" text-anchor="end">-100</text>
<text transform="translate(324.70,91.58) scale(1.0000,1)" font-family="Liberation Sans" font-size="11.4" fill="#1f1f1f" stroke="#1f1f1f" stroke-width="0.28" text-anchor="end">-120</text>
<text transform="translate(324.70,124.31) scale(1.0000,1)" font-family="Liberation Sans" font-size="11.4" fill="#1f1f1f" stroke="#1f1f1f" stroke-width="0.28" text-anchor="end">-140</text>
<text transform="translate(324.70,157.05) scale(1.0000,1)" font-family="Liberation Sans" font-size="11.4" fill="#1f1f1f" stroke="#1f1f1f" stroke-width="0.28" text-anchor="end">-160</text>
<text transform="translate(329.00,184.00) scale(1.0000,1)" font-family="Liberation Sans" font-size="11.0" fill="#1f1f1f" stroke="#1f1f1f" stroke-width="0.28" text-anchor="middle">0</text>
<text transform="translate(378.15,184.00) scale(1.0000,1)" font-family="Liberation Sans" font-size="11.0" fill="#1f1f1f" stroke="#1f1f1f" stroke-width="0.28" text-anchor="middle">5</text>
<text transform="translate(427.30,184.00) scale(1.0000,1)" font-family="Liberation Sans" font-size="11.0" fill="#1f1f1f" stroke="#1f1f1f" stroke-width="0.28" text-anchor="middle">10</text>
<text transform="translate(476.45,184.00) scale(1.0000,1)" font-family="Liberation Sans" font-size="11.0" fill="#1f1f1f" stroke="#1f1f1f" stroke-width="0.28" text-anchor="middle">15</text>
<text transform="translate(525.60,184.00) scale(1.0000,1)" font-family="Liberation Sans" font-size="11.0" fill="#1f1f1f" stroke="#1f1f1f" stroke-width="0.28" text-anchor="middle">20</text>
<text transform="translate(295.60,131.40) rotate(-90) scale(1.0264,1)" font-family="Liberation Sans" font-size="16" fill="#1f1f1f" stroke="#1f1f1f" stroke-width="0.28" text-anchor="start">RIN (dB/Hz)</text>
<text transform="translate(368.00,198.20) scale(1.0853,1)" font-family="Liberation Sans" font-size="15.2" fill="#1f1f1f" stroke="#1f1f1f" stroke-width="0.28" text-anchor="start">Frequency (GHz)</text>
<text transform="translate(410.00,220.70) scale(1.0061,1)" font-family="Liberation Serif" font-size="26" fill="#1f1f1f" stroke="#1f1f1f" stroke-width="0.28" text-anchor="start">(b)</text>
<rect x="396.3" y="9.4" width="144.1" height="27.8" fill="#fff" stroke="#7a7a7a" stroke-width="1"/>
<line x1="398.5" y1="16.2" x2="418.9" y2="16.2" stroke="#555" stroke-width="1"/>
<text transform="translate(421.10,20.80) scale(1.0488,1)" font-family="Liberation Sans" font-size="10.5" fill="#1f1f1f" stroke="#1f1f1f" stroke-width="0.28" text-anchor="start">W/O OF at 50 mA</text>
<line x1="398.5" y1="30.1" x2="418.9" y2="30.1" stroke="#ff8080" stroke-width="1.2"/>
<text transform="translate(421.10,34.00) scale(1.0570,1)" font-family="Liberation Sans" font-size="10.5" fill="#1f1f1f" stroke="#1f1f1f" stroke-width="0.28" text-anchor="start">With−9 dB OF at 50 mA</text>
<line x1="100.85" y1="233.0" x2="100.85" y2="400.9" stroke="#e3e3e3" stroke-width="0.8"/>
<line x1="151.10" y1="233.0" x2="151.10" y2="400.9" stroke="#e3e3e3" stroke-width="0.8"/>
<line x1="201.35" y1="233.0" x2="201.35" y2="400.9" stroke="#e3e3e3" stroke-width="0.8"/>
<line x1="251.60" y1="233.0" x2="251.60" y2="400.9" stroke="#e3e3e3" stroke-width="0.8"/>
<line x1="50.6" y1="249.40" x2="271.6" y2="249.40" stroke="#e3e3e3" stroke-width="0.8"/>
<line x1="50.6" y1="283.12" x2="271.6" y2="283.12" stroke="#e3e3e3" stroke-width="0.8"/>
<line x1="50.6" y1="316.85" x2="271.6" y2="316.85" stroke="#e3e3e3" stroke-width="0.8"/>
<line x1="50.6" y1="350.57" x2="271.6" y2="350.57" stroke="#e3e3e3" stroke-width="0.8"/>
<line x1="50.6" y1="384.30" x2="271.6" y2="384.30" stroke="#e3e3e3" stroke-width="0.8"/>
<g clip-path="url(#cc)">
<polyline points="50.8,362.0 51.2,365.2 51.7,367.4 52.2,363.8 52.6,365.7 53.1,359.5 53.5,360.7 54.0,363.5 54.4,359.8 54.9,368.0 55.3,367.7 55.8,365.2 56.2,361.0 56.7,362.3 57.1,363.5 57.6,362.3 58.0,363.8 58.5,363.9 58.9,364.5 59.4,359.8 59.8,365.8 60.3,364.4 60.7,368.3 61.2,361.0 61.6,360.7 62.1,365.1 62.5,367.6 63.0,367.1 63.4,360.7 63.9,366.2 64.3,362.5 64.8,360.8 65.2,366.6 65.7,363.0 66.1,362.4 66.6,364.6 67.0,359.9 67.5,365.4 67.9,362.2 68.4,363.6 68.8,360.2 69.3,367.0 69.7,363.0 70.2,363.9 70.6,364.5 71.1,363.4 71.5,362.2 72.0,364.5 72.4,366.1 72.9,369.9 73.3,366.2 73.8,367.6 74.2,364.3 74.7,362.5 75.1,360.9 75.6,361.5 76.0,362.8 76.5,361.7 76.9,361.5 77.4,360.3 77.8,365.2 78.3,362.2 78.7,362.7 79.2,363.8 79.6,362.5 80.1,359.9 80.5,361.8 81.0,358.4 81.4,360.9 81.9,360.3 82.3,361.0 82.8,361.5 83.2,360.8 83.7,360.7 84.1,363.6 84.6,363.2 85.0,360.6 85.5,360.9 85.9,364.6 86.4,363.3 86.8,364.4 87.3,358.9 87.7,361.6 88.2,361.5 88.6,361.5 89.1,359.2 89.5,360.8 90.0,360.8 90.4,360.7 90.9,363.3 91.3,363.5 91.8,360.9 92.2,363.1 92.7,363.5 93.1,360.9 93.6,359.9 94.0,360.3 94.5,359.4 94.9,362.7 95.4,360.0 95.8,360.0 96.3,364.4 96.7,364.0 97.2,362.9 97.6,360.5 98.1,361.5 98.5,361.4 99.0,361.0 99.4,362.2 99.9,360.9 100.3,364.2 100.8,362.8 101.2,360.7 101.7,362.7 102.1,363.9 102.6,360.4 103.0,365.0 103.5,361.5 103.9,359.5 104.4,365.4 104.8,360.6 105.3,360.7 105.7,358.2 106.2,361.7 106.6,357.7 107.1,359.2 107.5,363.5 108.0,362.2 108.4,360.9 108.9,360.3 109.3,359.4 109.8,362.2 110.2,363.2 110.7,361.4 111.1,366.2 111.6,363.1 112.0,362.2 112.5,363.7 112.9,357.2 113.4,360.1 113.8,361.5 114.3,360.0 114.7,361.4 115.2,362.7 115.6,360.4 116.1,364.0 116.5,362.9 117.0,359.6 117.4,361.1 117.9,359.8 118.3,360.8 118.8,364.1 119.2,362.3 119.7,359.4 120.1,361.6 120.6,359.8 121.0,361.2 121.5,363.7 121.9,359.5 122.4,361.8 122.8,365.0 123.3,358.2 123.7,361.3 124.2,362.1 124.6,366.0 125.1,361.7 125.5,360.3 126.0,364.8 126.4,361.6 126.9,365.7 127.3,358.9 127.8,360.5 128.2,358.8 128.7,357.4 129.1,361.8 129.6,366.3 130.0,358.6 130.5,362.1 130.9,364.8 131.4,359.3 131.8,361.9 132.3,356.8 132.7,358.8 133.2,364.5 133.6,360.0 134.1,361.3 134.5,358.5 135.0,360.4 135.4,357.5 135.9,358.6 136.3,355.7 136.8,358.8 137.2,360.9 137.7,359.8 138.1,361.2 138.6,361.9 139.0,359.1 139.5,358.4 139.9,360.1 140.4,359.3 140.8,361.4 141.3,360.6 141.7,360.2 142.2,363.2 142.6,360.4 143.1,361.5 143.5,360.0 144.0,363.6 144.4,358.3 144.9,356.7 145.3,359.3 145.8,358.1 146.2,358.8 146.7,357.4 147.1,358.8 147.6,362.0 148.0,355.5 148.5,362.1 148.9,357.5 149.4,357.0 149.8,361.3 150.3,359.4 150.7,359.1 151.2,358.2 151.6,356.9 152.1,361.1 152.5,358.7 153.0,356.5 153.4,356.3 153.9,356.2 154.3,356.6 154.8,358.6 155.2,360.2 155.7,355.8 156.1,358.2 156.6,356.5 157.0,359.9 157.5,361.3 157.9,357.0 158.4,354.8 158.8,358.8 159.3,360.3 159.7,356.6 160.2,356.8 160.6,358.6 161.1,360.7 161.5,354.8 162.0,358.5 162.4,355.0 162.9,360.8 163.3,357.1 163.8,359.3 164.2,358.2 164.7,356.8 165.1,358.3 165.6,356.4 166.0,357.3 166.5,359.3 166.9,360.5 167.4,359.8 167.8,356.2 168.3,360.1 168.7,362.3 169.2,356.4 169.6,356.0 170.1,360.5 170.5,356.8 171.0,359.3 171.4,360.3 171.9,357.0 172.3,360.2 172.8,356.9 173.2,358.3 173.7,360.6 174.1,356.3 174.6,359.6 175.0,358.8 175.5,357.0 175.9,355.9 176.4,359.3 176.8,358.2 177.3,360.1 177.7,361.5 178.2,357.6 178.6,357.1 179.1,355.9 179.5,358.7 180.0,354.7 180.4,360.2 180.9,359.7 181.3,357.8 181.8,362.3 182.2,357.4 182.7,358.6 183.1,358.2 183.6,361.6 184.0,359.1 184.5,357.6 184.9,357.3 185.4,358.3 185.8,357.1 186.3,354.6 186.7,358.8 187.2,361.1 187.6,354.6 188.1,360.3 188.5,356.3 189.0,357.8 189.4,360.3 189.9,357.1 190.3,355.2 190.8,364.0 191.2,358.1 191.7,358.5 192.1,355.8 192.6,357.3 193.0,361.2 193.5,364.3 193.9,357.9 194.4,357.3 194.8,359.6 195.3,359.2 195.7,361.0 196.2,357.5 196.6,358.8 197.1,357.5 197.5,359.5 198.0,360.6 198.4,360.2 198.9,355.6 199.3,356.6 199.8,357.1 200.2,356.6 200.7,359.4 201.1,359.0 201.6,361.9 202.0,357.7 202.5,356.7 202.9,359.8 203.4,355.6 203.8,361.1 204.3,359.3 204.7,358.7 205.2,356.8 205.6,356.6 206.1,360.7 206.5,357.2 207.0,353.5 207.4,360.3 207.9,357.5 208.3,359.5 208.8,357.3 209.2,359.7 209.7,357.3 210.1,366.9 210.6,360.8 211.0,358.7 211.5,357.8 211.9,359.0 212.4,360.5 212.8,355.8 213.3,364.2 213.7,360.0 214.2,356.9 214.6,359.8 215.1,358.2 215.5,358.5 216.0,360.0 216.4,359.1 216.9,362.3 217.3,359.8 217.8,359.5 218.2,359.2 218.7,361.2 219.1,360.9 219.6,364.2 220.0,357.0 220.5,360.9 220.9,361.9 221.4,365.2 221.8,371.0 222.3,357.3 222.7,355.7 223.2,364.8 223.6,355.8 224.1,361.0 224.5,362.2 225.0,359.6 225.4,359.8 225.9,357.3 226.3,359.9 226.8,359.9 227.2,359.2 227.7,357.9 228.1,356.2 228.6,358.9 229.0,357.7 229.5,356.8 229.9,357.5 230.4,358.7 230.8,361.1 231.3,360.3 231.7,360.8 232.2,355.1 232.6,363.4 233.1,356.2 233.5,356.0 234.0,357.6 234.4,360.1 234.9,358.5 235.3,357.5 235.8,358.4 236.2,363.3 236.7,360.8 237.1,359.2 237.6,360.9 238.0,357.7 238.5,358.4 238.9,354.0 239.4,359.4 239.8,358.9 240.3,354.3 240.7,356.0 241.2,361.1 241.6,356.3 242.1,360.7 242.5,357.0 243.0,352.3 243.4,358.8 243.9,355.6 244.3,356.4 244.8,354.1 245.2,374.0 245.7,357.7 246.1,356.1 246.6,358.8 247.0,359.5 247.5,357.0 247.9,355.7 248.4,356.2 248.8,372.0 249.3,357.1 249.7,357.4 250.2,354.1 250.6,359.7 251.1,358.7 251.5,353.2 252.0,358.5 252.4,360.3 252.9,358.8 253.3,359.0 253.8,359.0 254.2,353.3 254.7,359.6 255.1,362.0 255.6,353.8 256.0,382.8 256.5,355.9 256.9,356.7 257.4,355.9 257.8,355.4 258.3,356.5 258.7,362.1 259.2,357.1 259.6,360.2 260.1,356.3 260.5,357.0 261.0,353.1 261.4,364.9 261.9,359.9 262.3,360.2 262.8,360.3 263.2,355.4 263.7,360.5 264.1,360.3 264.6,354.9 265.0,360.9 265.5,362.2 265.9,360.2 266.4,356.6 266.8,384.7 267.3,356.9 267.7,359.2 268.2,354.1 268.6,357.5 269.1,351.4 269.5,357.2 270.0,359.5 270.4,356.6 270.9,357.5 271.3,358.6" fill="none" stroke="#000" stroke-width="0.95" stroke-linejoin="round" opacity="1.0"/>
<polyline points="50.8,311.4 51.2,349.6 51.6,303.0 51.9,348.8 52.3,311.6 52.7,305.5 53.1,319.1 53.5,355.0 53.8,320.8 54.2,352.2 54.6,323.2 55.0,350.9 55.4,322.6 55.7,351.1 56.1,308.0 56.5,343.4 56.9,312.2 57.3,358.0 57.6,315.7 58.0,357.6 58.4,322.9 58.8,353.1 59.2,317.8 59.5,358.3 59.9,314.9 60.3,356.3 60.7,318.7 61.1,344.4 61.4,319.2 61.8,363.9 62.2,317.8 62.6,362.4 63.0,323.1 63.3,357.0 63.7,318.9 64.1,357.9 64.5,311.0 64.9,360.2 65.2,320.4 65.6,350.6 66.0,313.7 66.4,345.9 66.8,329.2 67.1,356.5 67.5,318.4 67.9,347.6 68.3,329.4 68.7,348.2 69.0,319.0 69.4,353.3 69.8,325.0 70.2,355.8 70.6,329.4 70.9,348.2 71.3,324.0 71.7,349.6 72.1,323.0 72.5,360.3 72.8,315.4 73.2,359.1 73.6,324.4 74.0,361.6 74.4,322.2 74.7,364.2 75.1,362.5 75.5,355.4 75.9,324.9 76.3,351.8 76.6,324.3 77.0,344.5 77.4,327.8 77.8,351.1 78.2,319.0 78.5,359.0 78.9,320.2 79.3,345.6 79.7,330.2 80.1,351.3 80.4,326.5 80.8,358.5 81.2,325.9 81.6,358.9 82.0,326.9 82.3,360.6 82.7,317.8 83.1,362.2 83.5,322.8 83.9,352.5 84.2,325.8 84.6,355.6 85.0,323.6 85.4,355.1 85.8,321.4 86.1,357.6 86.5,321.8 86.9,344.9 87.3,324.0 87.7,362.2 88.0,329.1 88.4,362.1 88.8,329.5 89.2,350.8 89.6,328.0 89.9,356.8 90.3,320.7 90.7,361.9 91.1,321.1 91.5,358.5 91.8,316.2 92.2,347.1 92.6,323.6 93.0,312.0 93.4,317.9 93.7,350.2 94.1,320.6 94.5,359.9 94.9,325.7 95.3,354.7 95.6,316.3 96.0,361.0 96.4,318.7 96.8,362.1 97.2,323.4 97.5,357.8 97.9,329.2 98.3,353.1 98.7,328.9 99.1,347.5 99.4,321.6 99.8,345.4 100.2,328.8 100.6,356.0 101.0,329.7 101.3,354.4 101.7,326.1 102.1,361.4 102.5,329.0 102.9,348.8 103.2,325.5 103.6,361.8 104.0,328.0 104.4,356.9 104.8,321.9 105.1,356.3 105.5,330.2 105.9,357.6 106.3,324.4 106.7,361.2 107.0,318.3 107.4,350.4 107.8,318.6 108.2,356.6 108.6,327.1 108.9,355.8 109.3,329.9 109.7,350.8 110.1,322.5 110.5,349.6 110.8,327.0 111.2,359.8 111.6,330.9 112.0,348.3 112.4,330.4 112.7,360.0 113.1,326.1 113.5,356.8 113.9,320.1 114.3,361.1 114.6,327.4 115.0,360.6 115.4,331.0 115.8,361.1 116.2,323.7 116.5,346.5 116.9,322.6 117.3,347.9 117.7,321.7 118.1,346.1 118.4,326.2 118.8,347.8 119.2,326.1 119.6,351.6 120.0,321.7 120.3,349.9 120.7,324.4 121.1,360.9 121.5,328.2 121.9,357.1 122.2,320.0 122.6,358.1 123.0,323.4 123.4,347.1 123.8,320.9 124.1,352.1 124.5,330.3 124.9,361.2 125.3,322.4 125.7,347.9 126.0,322.6 126.4,360.0 126.8,323.5 127.2,352.0 127.6,325.2 127.9,354.4 128.3,329.2 128.7,343.7 129.1,323.1 129.5,361.0 129.8,328.3 130.2,351.2 130.6,322.1 131.0,350.6 131.4,319.3 131.7,358.8 132.1,319.4 132.5,354.8 132.9,316.8 133.3,355.4 133.6,328.4 134.0,357.2 134.4,318.6 134.8,359.7 135.2,323.5 135.5,358.5 135.9,325.9 136.3,354.9 136.7,321.5 137.1,353.2 137.4,327.4 137.8,345.5 138.2,327.4 138.6,359.6 139.0,315.5 139.3,351.1 139.7,314.9 140.1,349.7 140.5,313.5 140.9,351.7 141.2,324.6 141.6,359.5 142.0,327.7 142.4,356.5 142.8,327.3 143.1,358.8 143.5,324.8 143.9,343.1 144.3,313.5 144.7,358.9 145.0,327.1 145.4,360.2 145.8,321.6 146.2,314.0 146.6,327.8 146.9,346.9 147.3,315.2 147.7,349.6 148.1,325.8 148.5,356.3 148.8,315.3 149.2,343.1 149.6,325.2 150.0,357.0 150.4,325.6 150.7,343.9 151.1,314.5 151.5,350.7 151.9,313.7 152.3,359.1 152.6,321.5 153.0,359.3 153.4,323.8 153.8,352.0 154.2,317.2 154.5,354.6 154.9,327.2 155.3,350.9 155.7,316.6 156.1,343.2 156.4,329.5 156.8,357.5 157.2,325.5 157.6,344.6 158.0,317.9 158.3,355.2 158.7,330.9 159.1,349.6 159.5,329.1 159.9,343.7 160.2,329.8 160.6,347.8 161.0,324.1 161.4,352.7 161.8,323.9 162.1,358.0 162.5,325.9 162.9,356.1 163.3,331.3 163.7,351.8 164.0,324.3 164.4,357.0 164.8,331.3 165.2,353.3 165.6,321.1 165.9,345.4 166.3,331.7 166.7,354.6 167.1,332.0 167.5,350.0 167.8,326.1 168.2,355.2 168.6,331.7 169.0,351.2 169.4,320.0 169.7,355.2 170.1,322.9 170.5,352.8 170.9,319.4 171.3,346.8 171.6,323.7 172.0,356.9 172.4,330.6 172.8,350.8 173.2,324.8 173.5,346.0 173.9,328.6 174.3,347.7 174.7,327.8 175.1,357.0 175.4,328.5 175.8,356.4 176.2,322.3 176.6,352.5 177.0,331.5 177.3,345.5 177.7,331.4 178.1,344.5 178.5,322.1 178.9,346.6 179.2,331.8 179.6,350.9 180.0,326.3 180.4,356.0 180.8,324.7 181.1,357.1 181.5,325.5 181.9,353.1 182.3,325.4 182.7,349.9 183.0,328.1 183.4,350.0 183.8,330.6 184.2,352.8 184.6,323.6 184.9,358.8 185.3,321.4 185.7,350.0 186.1,319.6 186.5,352.8 186.8,325.3 187.2,357.3 187.6,322.0 188.0,359.6 188.4,330.7 188.7,359.6 189.1,325.6 189.5,347.2 189.9,328.5 190.3,356.2 190.6,326.5 191.0,346.4 191.4,324.8 191.8,356.4 192.2,320.5 192.5,343.8 192.9,332.2 193.3,359.5 193.7,330.9 194.1,356.7 194.4,328.8 194.8,352.6 195.2,319.4 195.6,355.8 196.0,325.3 196.3,347.0 196.7,320.8 197.1,353.5 197.5,327.6 197.9,350.5 198.2,324.4 198.6,345.7 199.0,331.3 199.4,346.1 199.8,331.9 200.1,359.3 200.5,330.4 200.9,346.4 201.3,330.5 201.7,348.7 202.0,330.2 202.4,358.1 202.8,324.8 203.2,350.9 203.6,325.3 203.9,356.3 204.3,332.6 204.7,353.4 205.1,322.2 205.5,345.4 205.8,331.0 206.2,352.5 206.6,333.0 207.0,346.7 207.4,331.2 207.7,348.7 208.1,332.9 208.5,349.8 208.9,333.3 209.3,351.6 209.6,325.8 210.0,352.3 210.4,329.9 210.8,358.5 211.2,333.3 211.5,357.4 211.9,332.1 212.3,359.2 212.7,330.5 213.1,351.0 213.4,334.7 213.8,347.3 214.2,327.2 214.6,348.8 215.0,331.0 215.3,353.4 215.7,329.7 216.1,347.1 216.5,331.2 216.9,347.0 217.2,330.0 217.6,350.7 218.0,330.2 218.4,349.0 218.8,331.7 219.1,359.3 219.5,338.8 219.9,347.8 220.3,334.0 220.7,353.5 221.0,330.4 221.4,359.2 221.8,335.1 222.2,358.1 222.6,337.5 222.9,353.3 223.3,330.1 223.7,349.8 224.1,331.0 224.5,354.0 224.8,331.0 225.2,347.9 225.6,333.2 226.0,349.1 226.4,335.6 226.7,350.9 227.1,332.8 227.5,358.8 227.9,329.4 228.3,352.9 228.6,337.0 229.0,369.8 229.4,335.2 229.8,353.8 230.2,333.8 230.5,350.1 230.9,330.7 231.3,346.8 231.7,331.3 232.1,347.2 232.4,337.2 232.8,359.0 233.2,332.4 233.6,347.0 234.0,335.4 234.3,354.4 234.7,327.9 235.1,349.1 235.5,328.2 235.9,353.8 236.2,334.6 236.6,354.1 237.0,334.0 237.4,352.7 237.8,335.7 238.1,354.0 238.5,331.0 238.9,347.2 239.3,332.5 239.7,347.5 240.0,328.2 240.4,351.5 240.8,331.2 241.2,352.7 241.6,335.3 241.9,352.1 242.3,332.9 242.7,356.0 243.1,322.0 243.5,352.5 243.8,330.4 244.2,355.2 244.6,328.7 245.0,348.6 245.4,337.4 245.7,356.0 246.1,332.6 246.5,350.7 246.9,332.4 247.3,357.6 247.6,335.7 248.0,350.0 248.4,332.0 248.8,358.2 249.2,332.0 249.5,347.1 249.9,335.6 250.3,353.4 250.7,335.0 251.1,352.3 251.4,336.0 251.8,347.6 252.2,337.2 252.6,357.3 253.0,333.3 253.3,348.0 253.7,328.8 254.1,354.9 254.5,329.5 254.9,357.1 255.2,333.9 255.6,346.9 256.0,372.4 256.4,354.4 256.8,338.0 257.1,353.7 257.5,332.7 257.9,350.6 258.3,333.0 258.7,356.9 259.0,337.3 259.4,347.7 259.8,333.5 260.2,350.6 260.6,337.7 260.9,355.2 261.3,332.5 261.7,357.2 262.1,337.6 262.5,354.8 262.8,339.1 263.2,354.8 263.6,336.1 264.0,358.3 264.4,334.9 264.7,354.5 265.1,330.8 265.5,349.6 265.9,338.5 266.3,351.9 266.6,335.2 267.0,349.7 267.4,339.5 267.8,347.6 268.2,330.7 268.5,358.0 268.9,337.2 269.3,354.8 269.7,332.8 270.1,351.0 270.4,337.5 270.8,351.8 271.2,334.3" fill="none" stroke="#ff0808" stroke-width="0.6" stroke-linejoin="round" opacity="1.0"/>
</g>
<rect x="50.6" y="233.0" width="221.00" height="167.90" fill="none" stroke="#7a7a7a" stroke-width="1.2"/>
<line x1="50.60" y1="400.9" x2="50.60" y2="398.7" stroke="#7a7a7a" stroke-width="0.8"/>
<line x1="50.60" y1="233.0" x2="50.60" y2="235.2" stroke="#7a7a7a" stroke-width="0.8"/>
<line x1="100.85" y1="400.9" x2="100.85" y2="398.7" stroke="#7a7a7a" stroke-width="0.8"/>
<line x1="100.85" y1="233.0" x2="100.85" y2="235.2" stroke="#7a7a7a" stroke-width="0.8"/>
<line x1="151.10" y1="400.9" x2="151.10" y2="398.7" stroke="#7a7a7a" stroke-width="0.8"/>
<line x1="151.10" y1="233.0" x2="151.10" y2="235.2" stroke="#7a7a7a" stroke-width="0.8"/>
<line x1="201.35" y1="400.9" x2="201.35" y2="398.7" stroke="#7a7a7a" stroke-width="0.8"/>
<line x1="201.35" y1="233.0" x2="201.35" y2="235.2" stroke="#7a7a7a" stroke-width="0.8"/>
<line x1="251.60" y1="400.9" x2="251.60" y2="398.7" stroke="#7a7a7a" stroke-width="0.8"/>
<line x1="251.60" y1="233.0" x2="251.60" y2="235.2" stroke="#7a7a7a" stroke-width="0.8"/>
<line x1="50.6" y1="249.40" x2="52.800000000000004" y2="249.40" stroke="#7a7a7a" stroke-width="0.8"/>
<line x1="271.6" y1="249.40" x2="269.40000000000003" y2="249.40" stroke="#7a7a7a" stroke-width="0.8"/>
<line x1="50.6" y1="283.12" x2="52.800000000000004" y2="283.12" stroke="#7a7a7a" stroke-width="0.8"/>
<line x1="271.6" y1="283.12" x2="269.40000000000003" y2="283.12" stroke="#7a7a7a" stroke-width="0.8"/>
<line x1="50.6" y1="316.85" x2="52.800000000000004" y2="316.85" stroke="#7a7a7a" stroke-width="0.8"/>
<line x1="271.6" y1="316.85" x2="269.40000000000003" y2="316.85" stroke="#7a7a7a" stroke-width="0.8"/>
<line x1="50.6" y1="350.57" x2="52.800000000000004" y2="350.57" stroke="#7a7a7a" stroke-width="0.8"/>
<line x1="271.6" y1="350.57" x2="269.40000000000003" y2="350.57" stroke="#7a7a7a" stroke-width="0.8"/>
<line x1="50.6" y1="384.30" x2="52.800000000000004" y2="384.30" stroke="#7a7a7a" stroke-width="0.8"/>
<line x1="271.6" y1="384.30" x2="269.40000000000003" y2="384.30" stroke="#7a7a7a" stroke-width="0.8"/>
<text transform="translate(46.50,254.30) scale(1.0300,1)" font-family="Liberation Sans" font-size="11.6" fill="#1f1f1f" stroke="#1f1f1f" stroke-width="0.28" text-anchor="end">-80</text>
<text transform="translate(46.50,288.02) scale(1.0300,1)" font-family="Liberation Sans" font-size="11.6" fill="#1f1f1f" stroke="#1f1f1f" stroke-width="0.28" text-anchor="end">-100</text>
<text transform="translate(46.50,321.75) scale(1.0300,1)" font-family="Liberation Sans" font-size="11.6" fill="#1f1f1f" stroke="#1f1f1f" stroke-width="0.28" text-anchor="end">-120</text>
<text transform="translate(46.50,355.47) scale(1.0300,1)" font-family="Liberation Sans" font-size="11.6" fill="#1f1f1f" stroke="#1f1f1f" stroke-width="0.28" text-anchor="end">-140</text>
<text transform="translate(46.50,389.20) scale(1.0300,1)" font-family="Liberation Sans" font-size="11.6" fill="#1f1f1f" stroke="#1f1f1f" stroke-width="0.28" text-anchor="end">-160</text>
<text transform="translate(50.60,416.60) scale(1.0000,1)" font-family="Liberation Sans" font-size="11.0" fill="#1f1f1f" stroke="#1f1f1f" stroke-width="0.28" text-anchor="middle">0</text>
<text transform="translate(100.85,416.60) scale(1.0000,1)" font-family="Liberation Sans" font-size="11.0" fill="#1f1f1f" stroke="#1f1f1f" stroke-width="0.28" text-anchor="middle">5</text>
<text transform="translate(151.10,416.60) scale(1.0000,1)" font-family="Liberation Sans" font-size="11.0" fill="#1f1f1f" stroke="#1f1f1f" stroke-width="0.28" text-anchor="middle">10</text>
<text transform="translate(201.35,416.60) scale(1.0000,1)" font-family="Liberation Sans" font-size="11.0" fill="#1f1f1f" stroke="#1f1f1f" stroke-width="0.28" text-anchor="middle">15</text>
<text transform="translate(251.60,416.60) scale(1.0000,1)" font-family="Liberation Sans" font-size="11.0" fill="#1f1f1f" stroke="#1f1f1f" stroke-width="0.28" text-anchor="middle">20</text>
<text transform="translate(15.60,362.20) rotate(-90) scale(1.0496,1)" font-family="Liberation Sans" font-size="16" fill="#1f1f1f" stroke="#1f1f1f" stroke-width="0.28" text-anchor="start">RIN (dB/Hz)</text>
<text transform="translate(91.20,432.00) scale(1.0910,1)" font-family="Liberation Sans" font-size="15.6" fill="#1f1f1f" stroke="#1f1f1f" stroke-width="0.28" text-anchor="start">Frequency (GHz)</text>
<text transform="translate(136.00,453.00) scale(0.9703,1)" font-family="Liberation Serif" font-size="26" fill="#1f1f1f" stroke="#1f1f1f" stroke-width="0.28" text-anchor="start">(c)</text>
<rect x="109.3" y="240.4" width="155.5" height="28.5" fill="#fff" stroke="#7a7a7a" stroke-width="1"/>
<line x1="111.5" y1="247.5" x2="132.5" y2="247.5" stroke="#555" stroke-width="1"/>
<text transform="translate(134.70,252.10) scale(1.0908,1)" font-family="Liberation Sans" font-size="10.5" fill="#1f1f1f" stroke="#1f1f1f" stroke-width="0.28" text-anchor="start">W/O OF at 55 mA</text>
<line x1="111.5" y1="261.6" x2="132.5" y2="261.6" stroke="#ff3030" stroke-width="1"/>
<text transform="translate(134.70,265.30) scale(1.0715,1)" font-family="Liberation Sans" font-size="10.5" fill="#1f1f1f" stroke="#1f1f1f" stroke-width="0.28" text-anchor="start">With −14 dB OF at 55 mA</text>
<g clip-path="url(#cd)">
<polyline points="326.1,301.5 326.6,301.3 327.1,301.5 327.6,301.9 328.1,301.5 328.6,301.6 329.1,301.6 329.6,301.8 330.1,301.7 330.6,301.6 331.1,301.7 331.6,302.0 332.1,302.0 332.6,302.0 333.1,302.0 333.6,301.8 334.1,301.8 334.6,302.1 335.1,301.7 335.6,302.0 336.1,301.6 336.6,301.9 337.1,301.9 337.6,301.8 338.1,302.2 338.6,302.0 339.1,302.1 339.6,302.1 340.1,302.0 340.6,302.4 341.1,302.0 341.6,302.1 342.1,301.8 342.6,301.9 343.1,301.9 343.6,301.8 344.1,301.7 344.6,301.8 345.1,302.1 345.6,301.7 346.1,301.6 346.6,301.6 347.1,302.1 347.6,301.9 348.1,301.6 348.6,301.6 349.1,301.3 349.6,301.3 350.1,301.4 350.6,301.3 351.1,301.1 351.6,301.1 352.1,301.3 352.6,301.2 353.1,300.7 353.6,301.1 354.1,301.2 354.6,300.8 355.1,301.0 355.6,300.6 356.1,301.0 356.6,300.6 357.1,300.5 357.6,300.6 358.1,301.1 358.6,300.5 359.1,300.3 359.6,300.6 360.1,300.5 360.6,300.7 361.1,300.0 361.6,299.8 362.1,300.0 362.6,300.0 363.1,299.9 363.6,299.9 364.1,299.3 364.6,299.3 365.1,299.3 365.6,299.4 366.1,299.2 366.6,299.0 367.1,298.7 367.6,299.0 368.1,298.9 368.6,299.1 369.1,298.5 369.6,298.7 370.1,297.9 370.6,297.7 371.1,297.4 371.6,297.0 372.1,296.6 372.6,296.3 373.1,296.0 373.6,295.6 374.1,295.4 374.6,294.9 375.1,294.6 375.6,294.5 376.1,293.9 376.6,293.5 377.1,293.1 377.6,292.8 378.1,292.5 378.6,291.9 379.1,291.9 379.6,291.6 380.1,291.1 380.6,290.3 381.1,289.6 381.6,289.3 382.1,288.9 382.6,288.6 383.1,287.9 383.6,287.3 384.1,287.2 384.6,286.3 385.1,286.1 385.6,285.6 386.1,284.6 386.6,284.4 387.1,283.8 387.6,283.2 388.1,282.5 388.6,282.1 389.1,282.0 389.6,281.3 390.1,281.0 390.6,280.2 391.1,279.9 391.6,279.4 392.1,278.7 392.6,278.2 393.1,278.2 393.6,277.6 394.1,277.0 394.6,276.6 395.1,276.3 395.6,276.0 396.1,275.0 396.6,274.8 397.1,274.5 397.6,273.6 398.1,273.4 398.6,272.0 399.1,272.3 399.6,271.5 400.1,270.7 400.6,270.8 401.1,270.4 401.6,270.1 402.1,269.7 402.6,269.1 403.1,268.5 403.6,268.2 404.1,267.9 404.6,267.6 405.1,267.1 405.6,266.8 406.1,266.7 406.6,266.2 407.1,266.3 407.6,266.0 408.1,265.0 408.6,264.8 409.1,264.3 409.6,264.0 410.1,263.9 410.6,263.0 411.1,262.4 411.6,261.9 412.1,261.4 412.6,260.6 413.1,260.0 413.6,259.9 414.1,259.5 414.6,259.2 415.1,259.1 415.6,258.6 416.1,258.8 416.6,258.6 417.1,258.9 417.6,258.7 418.1,258.1 418.6,258.1 419.1,257.0 419.6,256.9 420.1,256.0 420.6,255.1 421.1,254.2 421.6,253.6 422.1,252.7 422.6,251.7 423.1,251.0 423.6,249.6 424.1,249.0 424.6,248.3 425.1,247.3 425.6,247.1 426.1,246.3 426.6,245.6 427.1,245.8 427.6,245.9 428.1,246.4 428.6,246.7 429.1,247.9 429.6,249.1 430.1,250.6 430.6,252.1 431.1,253.3 431.6,254.4 432.1,255.9 432.6,257.1 433.1,257.9 433.6,258.6 434.1,259.2 434.6,260.4 435.1,261.1 435.6,261.6 436.1,262.6 436.6,263.5 437.1,264.1 437.6,265.0 438.1,265.8 438.6,266.1 439.1,267.1 439.6,268.0 440.1,268.8 440.6,269.6 441.1,269.7 441.6,270.8 442.1,271.6 442.6,272.4 443.1,273.2 443.6,273.4 444.1,274.2 444.6,274.8 445.1,275.8 445.6,275.9 446.1,276.9 446.6,277.3 447.1,277.7 447.6,277.7 448.1,278.5 448.6,279.3 449.1,279.3 449.6,280.1 450.1,280.6 450.6,281.2 451.1,281.5 451.6,282.0 452.1,282.3 452.6,282.8 453.1,283.3 453.6,283.9 454.1,284.1 454.6,284.8 455.1,284.7 455.6,285.8 456.1,286.0 456.6,286.7 457.1,286.9 457.6,287.5 458.1,288.1 458.6,288.1 459.1,288.7 459.6,289.1 460.1,289.6 460.6,289.6 461.1,290.2 461.6,290.5 462.1,290.8 462.6,291.2 463.1,291.3 463.6,292.3 464.1,292.4 464.6,293.0 465.1,292.8 465.6,293.1 466.1,293.8 466.6,293.7 467.1,294.4 467.6,294.6 468.1,295.0 468.6,295.5 469.1,295.8 469.6,296.5 470.1,296.5 470.6,296.3 471.1,296.9 471.6,296.6 472.1,297.0 472.6,296.9 473.1,297.1 473.6,297.7 474.1,297.5 474.6,297.6 475.1,297.8 475.6,298.0 476.1,298.4 476.6,298.1 477.1,298.2 477.6,298.7 478.1,298.4 478.6,298.8 479.1,299.3 479.6,299.2 480.1,299.2 480.6,299.2 481.1,299.2 481.6,299.3 482.1,299.5 482.6,299.8 483.1,299.8 483.6,299.6 484.1,299.6 484.6,299.9 485.1,299.5 485.6,299.8 486.1,299.9 486.6,299.8 487.1,299.8 487.6,300.2 488.1,299.8 488.6,300.0 489.1,300.1 489.6,300.3 490.1,300.1 490.6,300.6 491.1,300.4 491.6,300.5 492.1,300.5 492.6,300.5 493.1,300.5 493.6,300.9 494.1,300.8 494.6,300.8 495.1,301.1 495.6,300.8 496.1,301.1 496.6,301.0 497.1,300.9 497.6,301.3 498.1,300.9 498.6,301.4 499.1,301.1 499.6,301.4 500.1,301.6 500.6,301.5 501.1,301.2 501.6,301.3 502.1,301.2 502.6,301.1 503.1,301.1 503.6,301.3 504.1,301.4 504.6,300.9 505.1,301.2 505.6,301.3 506.1,301.2 506.6,301.0 507.1,301.4 507.6,300.9 508.1,301.2 508.6,301.4 509.1,300.7 509.6,301.1 510.1,301.1 510.6,301.1 511.1,300.9 511.6,300.9 512.1,300.7 512.6,301.0 513.1,301.1 513.6,300.8 514.1,300.7 514.6,300.8 515.1,300.8 515.6,300.8 516.1,300.6 516.6,300.5 517.1,300.1 517.6,299.8 518.1,300.3 518.6,300.3 519.1,299.7 519.6,299.7 520.1,299.8 520.6,299.8 521.1,299.6 521.6,299.6 522.1,299.3 522.6,299.2 523.1,299.1 523.6,298.8 524.1,299.1 524.6,298.8 525.1,298.8 525.6,298.4 526.1,298.6 526.6,298.0 527.1,298.2 527.6,297.5 528.1,297.7 528.6,297.9 529.1,297.6 529.6,297.6 530.1,297.1 530.6,297.6 531.1,297.2 531.6,296.9 532.1,296.9 532.6,296.7 533.1,296.7 533.6,296.3 534.1,295.8 534.6,295.9 535.1,296.1 535.6,295.8 536.1,295.4 536.6,295.4 537.1,295.3 537.6,295.4 538.1,295.0 538.6,295.2 539.1,295.6 539.6,295.5 540.1,295.7 540.6,296.1 541.1,295.7 541.6,295.9 542.1,295.8 542.6,295.9 543.1,296.1 543.6,295.9 544.1,295.8 544.6,296.6 545.1,296.3" fill="none" stroke="#ff0d0d" stroke-width="1.75" stroke-linejoin="round" opacity="1.0"/>
<polyline points="326.1,338.3 326.6,338.1 327.1,338.1 327.6,338.2 328.1,338.1 328.6,337.8 329.1,338.2 329.6,337.8 330.1,338.0 330.6,338.4 331.1,337.9 331.6,338.2 332.1,337.8 332.6,338.0 333.1,337.8 333.6,337.9 334.1,337.6 334.6,337.6 335.1,337.8 335.6,337.4 336.1,337.6 336.6,337.8 337.1,337.6 337.6,337.5 338.1,337.4 338.6,337.7 339.1,337.5 339.6,337.6 340.1,337.5 340.6,337.9 341.1,337.4 341.6,337.0 342.1,337.4 342.6,337.3 343.1,337.3 343.6,336.9 344.1,337.4 344.6,337.1 345.1,337.0 345.6,336.7 346.1,337.0 346.6,336.9 347.1,337.1 347.6,336.7 348.1,336.5 348.6,336.7 349.1,336.4 349.6,336.7 350.1,336.3 350.6,336.4 351.1,336.4 351.6,336.4 352.1,336.2 352.6,336.1 353.1,336.2 353.6,336.0 354.1,336.1 354.6,336.0 355.1,335.6 355.6,335.9 356.1,336.2 356.6,335.9 357.1,335.9 357.6,335.8 358.1,335.6 358.6,335.4 359.1,335.7 359.6,335.7 360.1,335.6 360.6,335.5 361.1,335.4 361.6,335.3 362.1,335.3 362.6,335.2 363.1,335.2 363.6,334.9 364.1,334.9 364.6,335.1 365.1,334.9 365.6,334.4 366.1,334.8 366.6,334.3 367.1,335.1 367.6,334.8 368.1,334.7 368.6,334.4 369.1,334.3 369.6,334.4 370.1,334.3 370.6,334.1 371.1,334.1 371.6,334.0 372.1,333.9 372.6,333.4 373.1,333.1 373.6,333.3 374.1,333.1 374.6,333.1 375.1,333.2 375.6,333.1 376.1,332.7 376.6,332.7 377.1,332.6 377.6,332.2 378.1,332.1 378.6,332.1 379.1,331.7 379.6,331.5 380.1,331.2 380.6,331.1 381.1,330.7 381.6,330.6 382.1,330.1 382.6,330.2 383.1,329.8 383.6,329.0 384.1,329.1 384.6,328.6 385.1,328.7 385.6,328.3 386.1,328.1 386.6,328.2 387.1,327.8 387.6,327.9 388.1,327.8 388.6,327.5 389.1,327.4 389.6,326.7 390.1,326.5 390.6,325.6 391.1,325.3 391.6,324.6 392.1,323.8 392.6,322.7 393.1,322.5 393.6,321.1 394.1,320.8 394.6,320.6 395.1,321.4 395.6,321.3 396.1,321.5 396.6,320.7 397.1,320.3 397.6,319.4 398.1,318.8 398.6,317.7 399.1,316.5 399.6,315.7 400.1,314.3 400.6,313.4 401.1,313.2 401.6,312.6 402.1,313.4 402.6,313.5 403.1,313.7 403.6,314.2 404.1,314.0 404.6,313.0 405.1,312.0 405.6,311.0 406.1,309.8 406.6,308.4 407.1,307.0 407.6,305.7 408.1,304.4 408.6,303.5 409.1,303.0 409.6,303.0 410.1,303.9 410.6,304.2 411.1,304.8 411.6,304.7 412.1,304.4 412.6,302.5 413.1,301.8 413.6,300.6 414.1,299.5 414.6,298.9 415.1,297.7 415.6,296.6 416.1,295.0 416.6,293.9 417.1,292.1 417.6,290.5 418.1,288.7 418.6,286.6 419.1,284.7 419.6,283.2 420.1,281.9 420.6,280.9 421.1,280.2 421.6,281.0 422.1,281.9 422.6,283.0 423.1,284.9 423.6,287.5 424.1,289.5 424.6,292.0 425.1,293.7 425.6,295.8 426.1,297.7 426.6,298.8 427.1,300.2 427.6,301.4 428.1,302.0 428.6,303.2 429.1,303.5 429.6,304.4 430.1,305.0 430.6,305.5 431.1,306.2 431.6,306.7 432.1,307.7 432.6,308.6 433.1,310.2 433.6,311.4 434.1,312.6 434.6,314.6 435.1,315.6 435.6,316.1 436.1,316.6 436.6,317.0 437.1,317.1 437.6,317.5 438.1,317.9 438.6,318.0 439.1,318.5 439.6,318.8 440.1,319.3 440.6,320.2 441.1,321.6 441.6,322.8 442.1,323.6 442.6,324.0 443.1,324.7 443.6,325.0 444.1,325.5 444.6,326.1 445.1,326.1 445.6,326.7 446.1,327.1 446.6,327.6 447.1,328.6 447.6,328.9 448.1,328.8 448.6,329.7 449.1,330.0 449.6,330.8 450.1,331.0 450.6,331.2 451.1,331.5 451.6,331.7 452.1,331.8 452.6,332.0 453.1,332.2 453.6,332.5 454.1,332.4 454.6,332.8 455.1,333.0 455.6,333.1 456.1,333.6 456.6,333.4 457.1,333.8 457.6,333.9 458.1,334.3 458.6,334.4 459.1,334.6 459.6,334.9 460.1,334.7 460.6,335.2 461.1,335.1 461.6,335.2 462.1,335.4 462.6,335.6 463.1,335.7 463.6,336.0 464.1,335.8 464.6,335.7 465.1,335.8 465.6,336.1 466.1,336.4 466.6,336.3 467.1,336.2 467.6,336.4 468.1,336.5 468.6,336.6 469.1,336.5 469.6,336.2 470.1,336.7 470.6,337.0 471.1,336.9 471.6,336.5 472.1,336.9 472.6,336.6 473.1,337.4 473.6,337.1 474.1,336.8 474.6,337.2 475.1,337.0 475.6,337.2 476.1,337.2 476.6,337.0 477.1,337.4 477.6,337.0 478.1,337.5 478.6,337.3 479.1,337.2 479.6,337.0 480.1,337.7 480.6,337.7 481.1,337.2 481.6,337.8 482.1,337.6 482.6,337.5 483.1,337.6 483.6,337.6 484.1,337.9 484.6,337.7 485.1,337.4 485.6,338.1 486.1,337.9 486.6,337.6 487.1,337.8 487.6,337.7 488.1,337.9 488.6,338.0 489.1,338.0 489.6,337.9 490.1,337.8 490.6,338.1 491.1,337.9 491.6,338.3 492.1,337.7 492.6,338.0 493.1,337.8 493.6,337.6 494.1,338.0 494.6,337.7 495.1,337.5 495.6,337.6 496.1,337.8 496.6,337.4 497.1,337.8 497.6,337.7 498.1,337.5 498.6,337.7 499.1,337.8 499.6,337.5 500.1,337.4 500.6,337.7 501.1,337.6 501.6,337.1 502.1,337.2 502.6,337.2 503.1,337.1 503.6,336.9 504.1,337.3 504.6,337.1 505.1,337.1 505.6,337.3 506.1,336.9 506.6,337.0 507.1,337.0 507.6,336.9 508.1,336.9 508.6,337.0 509.1,336.9 509.6,337.1 510.1,336.6 510.6,336.7 511.1,336.3 511.6,336.4 512.1,336.2 512.6,336.5 513.1,336.2 513.6,336.1 514.1,336.2 514.6,336.0 515.1,335.8 515.6,335.4 516.1,335.1 516.6,335.3 517.1,335.1 517.6,335.0 518.1,334.9 518.6,334.5 519.1,335.0 519.6,334.4 520.1,334.4 520.6,334.5 521.1,334.0 521.6,334.3 522.1,334.2 522.6,333.9 523.1,333.6 523.6,333.6 524.1,333.3 524.6,333.8 525.1,333.4 525.6,333.1 526.1,332.9 526.6,333.1 527.1,333.1 527.6,332.4 528.1,332.4 528.6,332.0 529.1,332.4 529.6,332.1 530.1,332.4 530.6,331.8 531.1,331.6 531.6,331.4 532.1,331.5 532.6,330.9 533.1,331.2 533.6,331.0 534.1,330.7 534.6,330.5 535.1,330.7 535.6,330.7 536.1,330.2 536.6,330.2 537.1,330.4 537.6,330.1 538.1,330.3 538.6,330.3 539.1,330.7 539.6,330.9 540.1,331.0 540.6,331.1 541.1,331.1 541.6,331.3 542.1,331.5 542.6,332.0 543.1,332.0 543.6,332.1 544.1,332.5 544.6,332.7 545.1,332.5" fill="none" stroke="#ff0dff" stroke-width="1.75" stroke-linejoin="round" opacity="1.0"/>
<polyline points="326.1,383.0 326.6,383.2 327.1,383.1 327.6,382.8 328.1,383.0 328.6,382.9 329.1,383.1 329.6,382.7 330.1,382.9 330.6,382.8 331.1,382.5 331.6,382.9 332.1,382.8 332.6,382.3 333.1,382.9 333.6,382.3 334.1,382.3 334.6,382.4 335.1,382.5 335.6,382.5 336.1,382.3 336.6,382.5 337.1,382.3 337.6,382.5 338.1,382.7 338.6,382.1 339.1,381.6 339.6,381.9 340.1,381.8 340.6,382.0 341.1,381.9 341.6,381.6 342.1,381.6 342.6,381.7 343.1,381.7 343.6,381.2 344.1,381.8 344.6,381.6 345.1,381.6 345.6,381.6 346.1,381.3 346.6,381.4 347.1,381.6 347.6,381.6 348.1,381.4 348.6,381.2 349.1,381.1 349.6,381.4 350.1,381.2 350.6,381.0 351.1,380.6 351.6,380.8 352.1,380.6 352.6,381.2 353.1,380.9 353.6,380.7 354.1,380.7 354.6,381.3 355.1,381.0 355.6,380.4 356.1,380.6 356.6,380.3 357.1,380.2 357.6,380.5 358.1,380.9 358.6,380.7 359.1,380.4 359.6,380.3 360.1,380.3 360.6,380.4 361.1,379.8 361.6,379.7 362.1,380.3 362.6,379.9 363.1,380.1 363.6,379.8 364.1,379.9 364.6,379.4 365.1,379.6 365.6,379.7 366.1,379.5 366.6,379.2 367.1,379.3 367.6,379.0 368.1,378.7 368.6,379.0 369.1,379.1 369.6,378.9 370.1,378.4 370.6,378.7 371.1,378.6 371.6,378.3 372.1,377.7 372.6,378.3 373.1,378.2 373.6,378.0 374.1,377.5 374.6,377.4 375.1,377.8 375.6,377.6 376.1,377.5 376.6,377.2 377.1,377.2 377.6,376.9 378.1,376.9 378.6,376.6 379.1,376.7 379.6,376.5 380.1,376.7 380.6,376.5 381.1,376.1 381.6,376.5 382.1,375.8 382.6,375.9 383.1,375.9 383.6,375.9 384.1,375.0 384.6,375.5 385.1,375.5 385.6,375.4 386.1,374.5 386.6,374.7 387.1,374.7 387.6,374.5 388.1,374.7 388.6,374.2 389.1,374.5 389.6,374.2 390.1,373.6 390.6,373.6 391.1,373.5 391.6,373.4 392.1,373.4 392.6,372.9 393.1,372.9 393.6,372.2 394.1,371.8 394.6,372.1 395.1,372.0 395.6,371.5 396.1,371.1 396.6,371.1 397.1,371.0 397.6,370.3 398.1,369.9 398.6,369.5 399.1,369.8 399.6,369.0 400.1,368.7 400.6,368.3 401.1,367.6 401.6,366.5 402.1,366.3 402.6,365.6 403.1,364.9 403.6,364.3 404.1,363.1 404.6,362.0 405.1,360.6 405.6,359.6 406.1,358.1 406.6,357.1 407.1,355.7 407.6,354.8 408.1,353.7 408.6,352.8 409.1,351.9 409.6,350.9 410.1,350.0 410.6,348.7 411.1,348.5 411.6,347.2 412.1,345.8 412.6,343.7 413.1,341.7 413.6,339.0 414.1,337.1 414.6,335.1 415.1,333.0 415.6,330.8 416.1,328.6 416.6,326.7 417.1,326.1 417.6,325.5 418.1,325.3 418.6,325.6 419.1,326.3 419.6,327.6 420.1,330.0 420.6,332.6 421.1,334.8 421.6,338.0 422.1,340.6 422.6,343.0 423.1,344.8 423.6,346.4 424.1,347.6 424.6,348.5 425.1,348.9 425.6,350.1 426.1,350.9 426.6,351.8 427.1,353.3 427.6,354.0 428.1,355.6 428.6,356.8 429.1,357.4 429.6,358.8 430.1,359.8 430.6,360.9 431.1,361.4 431.6,362.6 432.1,363.3 432.6,364.2 433.1,364.8 433.6,365.8 434.1,366.3 434.6,367.0 435.1,367.6 435.6,367.9 436.1,368.6 436.6,369.0 437.1,369.6 437.6,369.8 438.1,370.5 438.6,371.0 439.1,371.2 439.6,371.8 440.1,372.1 440.6,372.2 441.1,372.8 441.6,373.3 442.1,373.3 442.6,373.4 443.1,374.1 443.6,374.1 444.1,374.8 444.6,374.6 445.1,374.8 445.6,374.9 446.1,375.3 446.6,375.3 447.1,375.5 447.6,375.8 448.1,375.9 448.6,376.5 449.1,376.2 449.6,376.6 450.1,376.7 450.6,376.7 451.1,377.4 451.6,376.8 452.1,377.6 452.6,377.1 453.1,377.5 453.6,378.1 454.1,377.3 454.6,377.6 455.1,378.2 455.6,378.1 456.1,378.1 456.6,378.3 457.1,378.2 457.6,378.6 458.1,378.9 458.6,378.7 459.1,378.9 459.6,379.2 460.1,379.5 460.6,379.1 461.1,379.4 461.6,379.3 462.1,379.4 462.6,379.6 463.1,379.7 463.6,379.6 464.1,379.6 464.6,380.0 465.1,380.2 465.6,380.5 466.1,380.2 466.6,380.3 467.1,380.5 467.6,380.6 468.1,380.5 468.6,380.5 469.1,381.0 469.6,380.6 470.1,380.6 470.6,380.4 471.1,380.9 471.6,380.8 472.1,381.2 472.6,380.8 473.1,381.1 473.6,381.2 474.1,381.4 474.6,380.8 475.1,381.4 475.6,381.2 476.1,381.2 476.6,381.2 477.1,381.2 477.6,381.3 478.1,381.0 478.6,381.6 479.1,381.5 479.6,381.4 480.1,381.6 480.6,382.1 481.1,381.8 481.6,381.7 482.1,382.1 482.6,381.7 483.1,381.8 483.6,381.8 484.1,381.9 484.6,382.2 485.1,382.2 485.6,382.0 486.1,382.1 486.6,382.2 487.1,382.2 487.6,382.3 488.1,382.2 488.6,382.2 489.1,382.4 489.6,382.3 490.1,382.6 490.6,382.4 491.1,382.3 491.6,382.3 492.1,382.3 492.6,382.3 493.1,382.4 493.6,382.3 494.1,382.1 494.6,382.5 495.1,382.4 495.6,382.2 496.1,382.4 496.6,382.2 497.1,382.1 497.6,382.1 498.1,382.6 498.6,382.2 499.1,382.2 499.6,381.9 500.1,382.1 500.6,382.4 501.1,382.0 501.6,382.1 502.1,382.1 502.6,381.9 503.1,382.1 503.6,381.8 504.1,381.8 504.6,381.6 505.1,382.2 505.6,381.7 506.1,381.6 506.6,381.9 507.1,381.5 507.6,381.5 508.1,381.4 508.6,381.5 509.1,381.4 509.6,381.5 510.1,381.3 510.6,381.2 511.1,381.1 511.6,381.0 512.1,380.8 512.6,381.0 513.1,380.8 513.6,380.6 514.1,380.2 514.6,380.5 515.1,380.0 515.6,380.2 516.1,380.0 516.6,379.8 517.1,379.6 517.6,379.5 518.1,380.0 518.6,379.4 519.1,379.3 519.6,379.4 520.1,379.2 520.6,379.2 521.1,378.7 521.6,378.6 522.1,379.3 522.6,378.5 523.1,378.4 523.6,378.4 524.1,378.4 524.6,377.9 525.1,378.0 525.6,377.8 526.1,377.8 526.6,377.6 527.1,377.3 527.6,377.1 528.1,376.6 528.6,377.1 529.1,376.5 529.6,376.6 530.1,376.8 530.6,376.3 531.1,376.3 531.6,376.0 532.1,376.1 532.6,375.8 533.1,375.5 533.6,375.8 534.1,375.3 534.6,374.9 535.1,375.0 535.6,375.0 536.1,374.6 536.6,374.8 537.1,374.8 537.6,375.2 538.1,374.9 538.6,375.3 539.1,375.1 539.6,375.6 540.1,375.9 540.6,376.2 541.1,376.3 541.6,376.5 542.1,376.6 542.6,376.9 543.1,377.2 543.6,377.5 544.1,377.7 544.6,378.0 545.1,378.2" fill="none" stroke="#0d0dff" stroke-width="1.75" stroke-linejoin="round" opacity="1.0"/>
</g>
<rect x="325.8" y="239.3" width="219.70" height="152.20" fill="none" stroke="#7a7a7a" stroke-width="1.2"/>
<line x1="353.26" y1="391.5" x2="353.26" y2="389.3" stroke="#7a7a7a" stroke-width="0.8"/>
<line x1="353.26" y1="239.3" x2="353.26" y2="241.5" stroke="#7a7a7a" stroke-width="0.8"/>
<line x1="408.19" y1="391.5" x2="408.19" y2="389.3" stroke="#7a7a7a" stroke-width="0.8"/>
<line x1="408.19" y1="239.3" x2="408.19" y2="241.5" stroke="#7a7a7a" stroke-width="0.8"/>
<line x1="463.11" y1="391.5" x2="463.11" y2="389.3" stroke="#7a7a7a" stroke-width="0.8"/>
<line x1="463.11" y1="239.3" x2="463.11" y2="241.5" stroke="#7a7a7a" stroke-width="0.8"/>
<line x1="518.04" y1="391.5" x2="518.04" y2="389.3" stroke="#7a7a7a" stroke-width="0.8"/>
<line x1="518.04" y1="239.3" x2="518.04" y2="241.5" stroke="#7a7a7a" stroke-width="0.8"/>
<text transform="translate(353.26,411.30) scale(1.1700,1)" font-family="Liberation Sans" font-size="13.2" fill="#1f1f1f" stroke="#1f1f1f" stroke-width="0.28" text-anchor="middle">1294</text>
<text transform="translate(408.19,411.30) scale(1.1700,1)" font-family="Liberation Sans" font-size="13.2" fill="#1f1f1f" stroke="#1f1f1f" stroke-width="0.28" text-anchor="middle">1294.2</text>
<text transform="translate(463.11,411.30) scale(1.1700,1)" font-family="Liberation Sans" font-size="13.2" fill="#1f1f1f" stroke="#1f1f1f" stroke-width="0.28" text-anchor="middle">1294.4</text>
<text transform="translate(518.04,411.30) scale(1.1700,1)" font-family="Liberation Sans" font-size="13.2" fill="#1f1f1f" stroke="#1f1f1f" stroke-width="0.28" text-anchor="middle">1294.6</text>
<text transform="translate(316.30,367.20) rotate(-90) scale(1.1395,1)" font-family="Liberation Sans" font-size="15" fill="#1f1f1f" stroke="#1f1f1f" stroke-width="0.28" text-anchor="start">Output Power</text>
<text transform="translate(370.80,431.40) scale(1.1788,1)" font-family="Liberation Sans" font-size="14.5" fill="#1f1f1f" stroke="#1f1f1f" stroke-width="0.28" text-anchor="start">Wavelength (nm)</text>
<text transform="translate(409.00,451.50) scale(1.1546,1)" font-family="Liberation Serif" font-size="26" fill="#1f1f1f" stroke="#1f1f1f" stroke-width="0.28" text-anchor="start">(d)</text>
<rect x="457.6" y="241.5" width="87.6" height="49.4" fill="#fff" stroke="#7a7a7a" stroke-width="1"/>
<line x1="460" y1="249.6" x2="480" y2="249.6" stroke="#ff1a1a" stroke-width="1.6"/>
<text transform="translate(481.80,254.70) scale(1.1535,1)" font-family="Liberation Sans" font-size="12" fill="#1f1f1f" stroke="#1f1f1f" stroke-width="0.28" text-anchor="start">OF -10dB</text>
<line x1="460" y1="266" x2="480" y2="266" stroke="#ff1aff" stroke-width="1.6"/>
<text transform="translate(481.80,270.90) scale(1.1535,1)" font-family="Liberation Sans" font-size="12" fill="#1f1f1f" stroke="#1f1f1f" stroke-width="0.28" text-anchor="start">OF -20dB</text>
<line x1="460" y1="283.3" x2="480" y2="283.3" stroke="#1a1aff" stroke-width="1.6"/>
<text transform="translate(484.50,288.20) scale(1.1707,1)" font-family="Liberation Sans" font-size="12" fill="#1f1f1f" stroke="#1f1f1f" stroke-width="0.28" text-anchor="start">W/O OF</text>
<line x1="541.3" y1="282.3" x2="541.3" y2="285.6" stroke="#9a9a9a" stroke-width="0.9"/>
</svg>
</body></html>
